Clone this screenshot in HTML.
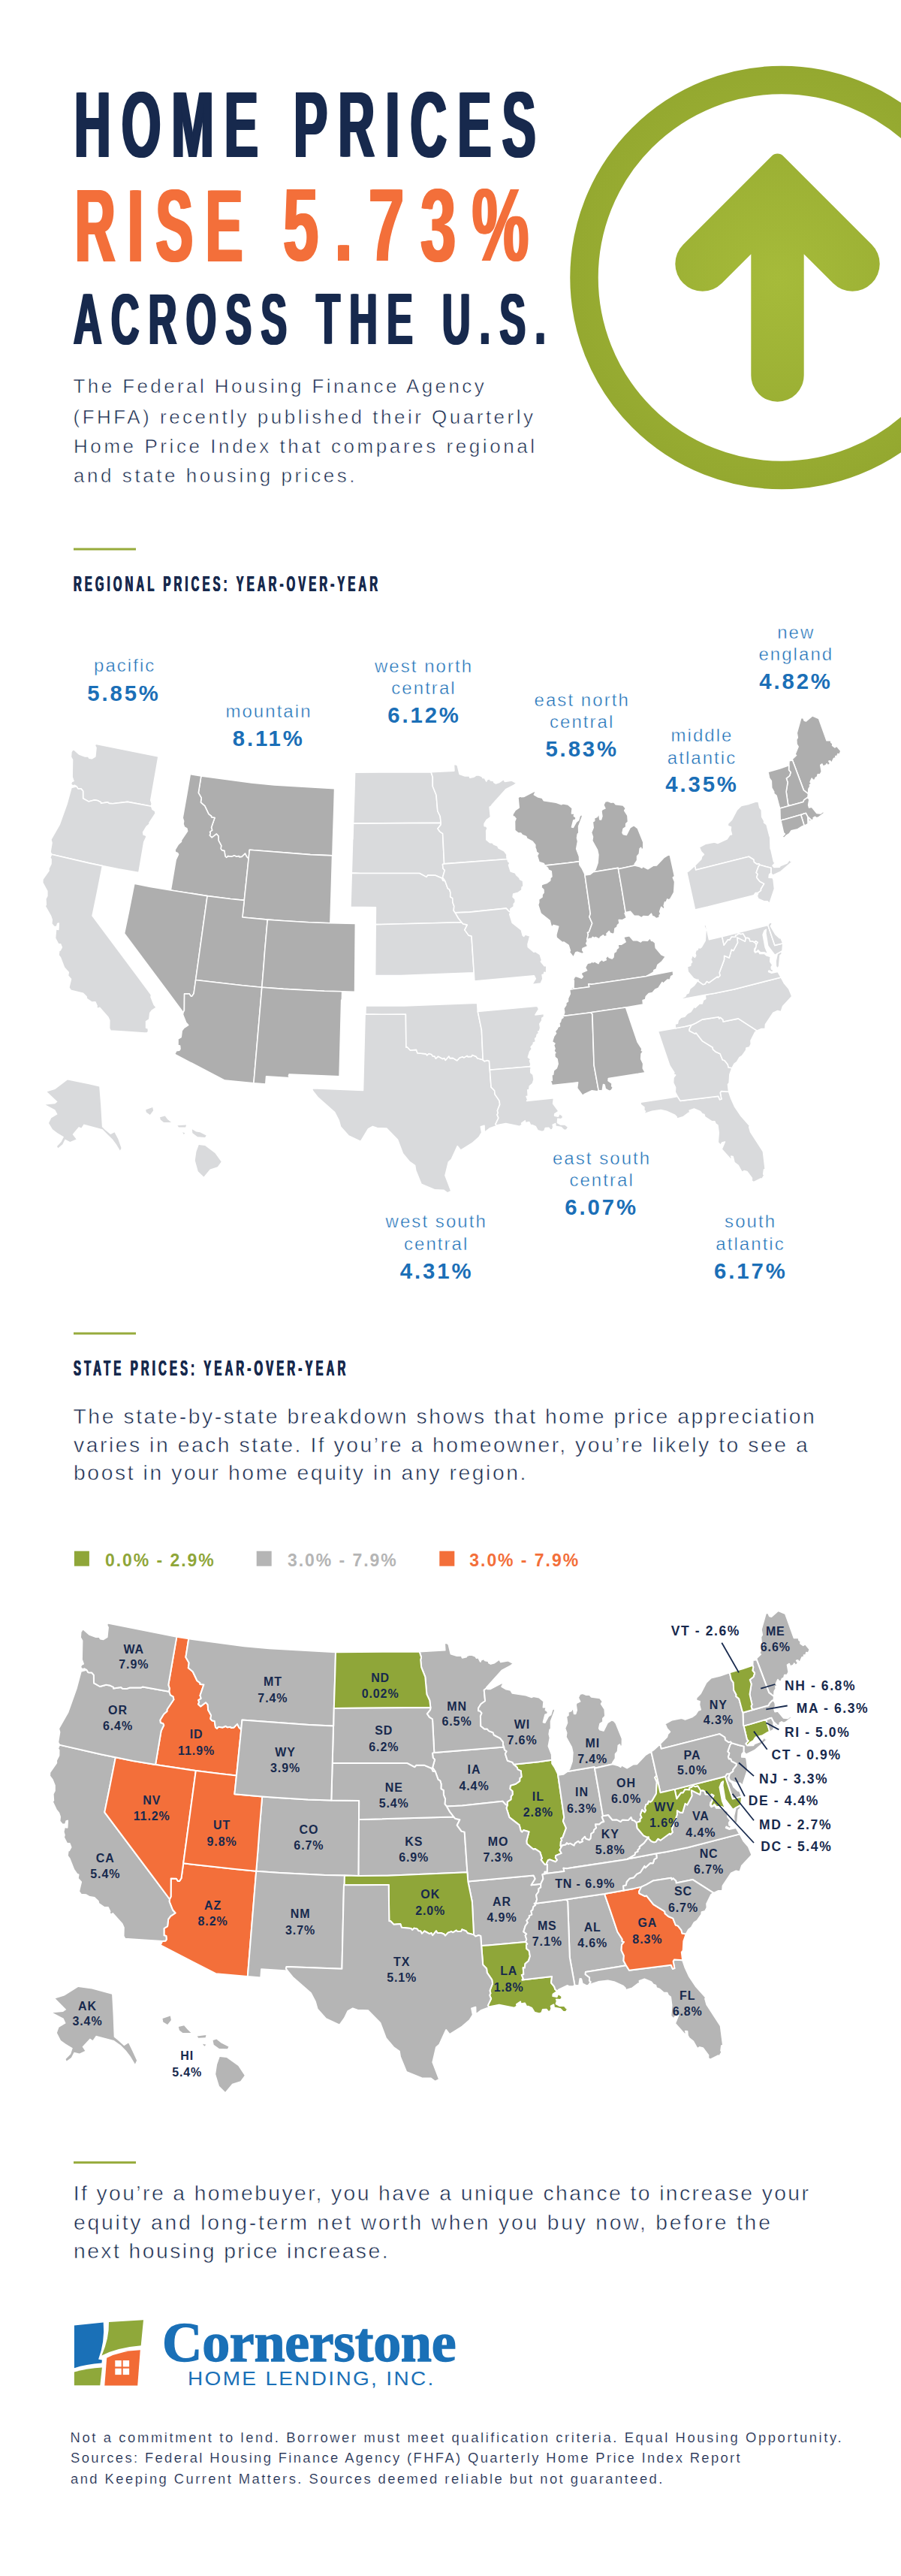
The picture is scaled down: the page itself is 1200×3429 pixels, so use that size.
<!DOCTYPE html><html lang="en"><head><meta charset="utf-8"><title>Home Prices Rise 5.73% Across the U.S.</title><style>
html,body{margin:0;padding:0;background:#fff}
body{width:1200px;height:3429px;position:relative;overflow:hidden;font-family:"Liberation Sans",sans-serif}
.hl{position:absolute;white-space:nowrap;font-weight:700;transform-origin:0 0;line-height:1;margin:0}
.sh{position:absolute;white-space:nowrap;font-weight:700;transform-origin:0 0;line-height:1;margin:0;color:#17294d}
.p{position:absolute;left:98px;margin:0;color:#17294d;white-space:nowrap;-webkit-text-stroke:0.55px #fff}
</style></head><body><svg width="1200" height="3429" viewBox="0 0 1200 3429" style="position:absolute;left:0;top:0" font-family='"Liberation Sans",sans-serif'><defs><radialGradient id="gg" cx="1036" cy="370" r="300" gradientUnits="userSpaceOnUse"><stop offset="0" stop-color="#a6bb3a"/><stop offset="1" stop-color="#93a72f"/></radialGradient></defs><circle cx="1041" cy="369.5" r="263" fill="none" stroke="url(#gg)" stroke-width="37.5"/><path d="M1027.8,207.7A10.9,10.9 0 0 1 1043.2,207.7L1161.04,325.56A36.4,36.4 0 0 1 1109.56,377.04L1070.7,338.18L1070.7,499.6A35.2,35.2 0 0 1 1000.3,499.6L1000.3,338.18L961.44,377.04A36.4,36.4 0 0 1 909.96,325.56Z" fill="url(#gg)"/><rect x="98" y="729.5" width="83" height="3" fill="#97ab3c"/><rect x="98" y="1773.5" width="83" height="3" fill="#97ab3c"/><rect x="98" y="2877.1" width="83" height="3" fill="#97ab3c"/><g stroke="#fff" stroke-width="1.6" stroke-linejoin="round"><g transform="translate(536.7,1283.0)" fill="#d9dadc"><path d="M-325.7,-276.0L-330.4,-249.0L-335.9,-217.8L-334.5,-213.6L-335.1,-209.7L-366.8,-215.6L-386.7,-213.2L-391.4,-213.6L-393.2,-215.1L-402.2,-213.7L-402.4,-215.3L-407.0,-217.5L-411.3,-218.1L-418.8,-216.1L-426.1,-220.3L-426.1,-230.0L-428.8,-233.1L-432.8,-233.1L-434.9,-236.3L-437.4,-237.8L-440.0,-237.0L-442.4,-239.6L-441.1,-242.4L-438.7,-243.5L-440.6,-248.8L-440.2,-271.5L-442.3,-275.4L-441.8,-282.1L-439.2,-286.0L-431.4,-279.0L-423.4,-276.1L-419.3,-276.2L-417.9,-273.9L-414.4,-273.2L-409.9,-275.9L-408.7,-287.6L-410.3,-290.6L-409.2,-292.8Z"/><path d="M-366.8,-215.6L-335.1,-209.7L-333.6,-205.6L-330.2,-203.5L-329.5,-200.2L-337.6,-188.1L-337.7,-186.0L-341.6,-182.6L-346.1,-175.2L-345.5,-172.0L-342.6,-171.1L-341.6,-169.1L-344.9,-162.2L-351.8,-121.5L-379.0,-126.1L-400.2,-130.4L-416.9,-133.9L-468.1,-145.8L-469.7,-148.9L-467.7,-161.1L-468.9,-165.5L-457.6,-185.1L-447.4,-213.6L-441.7,-234.5L-434.9,-236.3L-432.8,-233.1L-428.8,-233.1L-426.1,-230.0L-426.1,-220.3L-418.8,-216.1L-411.3,-218.1L-407.0,-217.5L-402.4,-215.3L-402.2,-213.7L-393.2,-215.1L-391.4,-213.6L-386.7,-213.2Z"/><path d="M-416.9,-133.9L-400.2,-130.4L-407.8,-92.0L-413.6,-64.0L-353.7,16.3L-335.2,41.3L-335.6,44.1L-331.5,54.4L-328.4,58.1L-334.1,61.8L-336.9,65.4L-337.9,74.0L-342.1,76.6L-342.1,85.1L-339.5,85.6L-339.1,89.9L-340.4,91.7L-344.2,92.1L-369.1,90.4L-389.4,89.1L-391.1,85.8L-390.9,75.4L-392.8,71.0L-404.0,58.4L-405.6,59.5L-408.3,58.1L-407.5,56.0L-409.8,50.9L-414.3,51.1L-421.2,46.4L-421.7,43.5L-426.1,39.2L-442.4,35.2L-444.9,31.6L-442.2,20.2L-446.2,15.9L-445.5,11.4L-451.1,5.0L-456.2,-8.2L-458.7,-11.5L-457.8,-18.8L-456.6,-17.9L-454.4,-21.9L-456.1,-26.3L-459.2,-26.5L-463.2,-34.0L-462.1,-46.3L-458.9,-45.6L-458.4,-54.0L-460.0,-53.5L-461.2,-49.6L-464.7,-49.5L-468.0,-53.4L-467.5,-58.8L-469.1,-63.5L-476.7,-77.0L-475.4,-78.5L-475.9,-86.4L-473.9,-90.3L-473.9,-96.8L-480.0,-108.2L-479.8,-112.4L-471.7,-124.0L-471.9,-126.7L-468.7,-133.0L-468.6,-139.3L-470.0,-141.2L-468.1,-145.8Z"/></g><g transform="translate(579.1,1306.5)" fill="#aeaeae"><path d="M-133.5,-256.8L-134.2,-231.5L-135.6,-188.8L-136.2,-167.6L-136.5,-167.6L-165.8,-168.9L-246.8,-175.2L-248.0,-163.5L-250.6,-166.1L-252.7,-170.3L-256.9,-166.1L-260.2,-165.6L-260.8,-166.9L-264.6,-166.3L-266.7,-167.7L-270.6,-166.2L-275.5,-166.9L-277.4,-165.0L-279.1,-166.5L-280.2,-173.9L-283.5,-174.6L-285.0,-176.7L-284.4,-180.9L-288.0,-187.6L-288.3,-193.8L-290.8,-196.4L-296.9,-191.7L-299.9,-194.5L-298.8,-196.8L-299.6,-199.2L-296.5,-201.3L-297.6,-204.9L-293.1,-218.0L-297.5,-218.5L-297.5,-220.0L-301.2,-222.9L-306.3,-233.7L-311.7,-238.3L-310.9,-244.3L-314.8,-251.2L-311.2,-273.6L-244.2,-264.5L-213.8,-261.6Z"/><path d="M-311.2,-273.6L-314.8,-251.2L-310.9,-244.3L-311.7,-238.3L-306.3,-233.7L-301.2,-222.9L-297.5,-220.0L-297.5,-218.5L-293.1,-218.0L-297.6,-204.9L-296.5,-201.3L-299.6,-199.2L-298.8,-196.8L-299.9,-194.5L-296.9,-191.7L-290.8,-196.4L-288.3,-193.8L-288.0,-187.6L-284.4,-180.9L-285.0,-176.7L-283.5,-174.6L-280.2,-173.9L-279.1,-166.5L-277.4,-165.0L-275.5,-166.9L-270.6,-166.2L-266.7,-167.7L-264.6,-166.3L-260.8,-166.9L-260.2,-165.6L-256.9,-166.1L-252.7,-170.3L-250.6,-166.1L-248.0,-163.5L-253.8,-108.1L-272.2,-110.0L-303.0,-113.9L-351.8,-121.5L-344.9,-162.2L-341.6,-169.1L-342.6,-171.1L-345.5,-172.0L-346.1,-175.2L-341.6,-182.6L-337.7,-186.0L-337.6,-188.1L-329.5,-200.2L-330.2,-203.5L-333.6,-205.6L-335.1,-209.7L-334.5,-213.6L-335.9,-217.8L-330.4,-249.0L-325.8,-276.0Z"/><path d="M-165.8,-168.9L-136.5,-167.6L-137.8,-122.8L-139.2,-77.7L-167.3,-78.7L-204.0,-81.0L-222.8,-82.4L-256.2,-85.5L-253.8,-108.1L-248.0,-163.5L-246.8,-175.2Z"/><path d="M-351.8,-121.5L-303.0,-113.9L-318.5,-2.0L-321.0,16.0L-323.4,19.6L-325.1,19.4L-326.9,16.4L-333.5,16.4L-333.7,38.4L-335.2,41.3L-353.7,16.3L-413.6,-64.0L-407.8,-92.0L-400.2,-130.4L-379.0,-126.1Z"/><path d="M-272.2,-110.0L-253.8,-108.1L-256.2,-85.5L-222.8,-82.4L-226.5,-40.2L-228.1,-18.6L-230.3,7.7L-256.0,5.3L-318.5,-2.0L-303.0,-113.9Z"/><path d="M-204.0,-81.0L-167.3,-78.7L-139.2,-77.7L-105.7,-77.0L-105.9,-54.3L-106.5,13.7L-123.4,13.3L-147.1,12.8L-201.7,9.9L-230.3,7.7L-228.1,-18.6L-226.5,-40.2L-222.8,-82.4Z"/><path d="M-230.3,7.7L-241.2,135.2L-279.7,131.6L-346.7,96.8L-344.2,92.1L-340.4,91.7L-339.1,89.9L-339.5,85.6L-342.1,85.1L-342.1,76.6L-337.9,74.0L-336.9,65.4L-334.1,61.8L-328.4,58.1L-331.5,54.4L-335.6,44.1L-335.2,41.3L-333.7,38.4L-333.5,16.4L-326.9,16.4L-325.1,19.4L-323.4,19.6L-321.0,16.0L-318.5,-2.0L-256.0,5.3Z"/><path d="M-201.7,9.9L-147.1,12.8L-123.4,13.3L-123.7,24.6L-124.4,24.6L-127.0,126.2L-194.0,123.5L-194.7,125.7L-192.7,128.4L-224.5,126.3L-225.3,136.5L-241.2,135.2L-230.3,7.7Z"/></g><g transform="translate(606.1,1284.9)" fill="#d9dadc"><path d="M-32.0,-257.2L-29.8,-250.3L-29.8,-238.2L-25.1,-226.6L-23.3,-205.4L-19.9,-198.4L-18.9,-189.5L-135.6,-188.8L-134.2,-231.5L-133.5,-256.8Z"/><path d="M-135.6,-188.8L-18.9,-189.5L-19.1,-186.9L-23.1,-181.9L-20.2,-177.7L-16.5,-175.3L-14.5,-135.0L-16.6,-134.4L-16.0,-128.7L-13.8,-126.5L-16.6,-117.0L-13.3,-112.2L-16.3,-112.7L-17.5,-115.9L-26.3,-119.7L-36.3,-119.8L-38.2,-117.5L-47.3,-122.4L-125.9,-122.4L-137.8,-122.8L-136.5,-167.6L-136.2,-167.6Z"/><path d="M-125.9,-122.4L-47.3,-122.4L-38.2,-117.5L-36.3,-119.8L-26.3,-119.7L-17.5,-115.9L-16.3,-112.7L-13.3,-112.2L-9.8,-102.3L-7.5,-100.9L-6.2,-97.0L-6.4,-91.2L-3.4,-89.3L-3.2,-83.7L-1.3,-78.7L-1.9,-72.8L0.2,-70.0L4.2,-62.9L8.8,-57.2L-103.4,-54.3L-105.9,-54.3L-105.7,-77.0L-139.2,-77.7L-137.8,-122.8Z"/><path d="M-103.4,-54.3L8.8,-57.2L10.6,-55.2L16.2,-53.8L12.8,-47.0L18.1,-39.8L21.9,-38.9L25.1,9.8L-71.8,13.6L-106.5,13.7L-105.9,-54.3Z"/><path d="M50.2,-211.7L49.0,-212.6L46.0,-210.4L47.3,-197.3L42.2,-193.6L39.0,-188.5L39.0,-185.3L40.9,-185.3L43.1,-182.6L41.6,-179.0L41.8,-167.0L46.4,-163.3L49.7,-163.2L51.6,-160.9L56.7,-158.9L57.8,-156.1L65.3,-152.1L68.9,-147.5L68.8,-143.9L69.9,-141.5L67.5,-141.2L-14.5,-135.0L-16.5,-175.3L-20.2,-177.7L-23.1,-181.9L-19.1,-186.9L-18.9,-189.5L-19.9,-198.4L-23.3,-205.4L-25.1,-226.6L-29.8,-238.2L-29.8,-250.3L-32.0,-257.2L-1.2,-258.8L-1.7,-267.3L1.2,-267.2L3.3,-265.7L6.0,-254.3L13.2,-252.0L19.0,-251.9L19.8,-249.6L24.7,-250.6L28.4,-253.1L31.7,-252.9L35.7,-251.4L37.0,-249.2L39.2,-249.6L41.7,-244.8L42.5,-247.0L46.2,-248.3L47.0,-246.3L51.6,-245.3L51.8,-243.3L54.2,-242.0L58.6,-243.3L64.7,-247.5L66.3,-244.4L75.4,-245.9L79.7,-243.6L83.5,-244.5L78.7,-239.9L67.6,-234.1L48.9,-213.4Z"/><path d="M67.5,-141.2L69.9,-141.5L70.5,-138.2L73.1,-136.2L71.4,-133.3L74.1,-124.9L80.2,-122.9L81.6,-120.2L85.7,-116.6L86.4,-114.3L90.3,-112.5L91.0,-105.4L89.0,-103.7L88.8,-100.1L84.0,-96.7L77.6,-94.9L77.0,-90.9L80.0,-88.0L80.2,-84.0L78.2,-81.6L78.1,-78.1L73.7,-75.1L73.8,-71.0L71.9,-71.6L68.0,-75.8L19.3,-70.8L0.2,-70.0L-1.9,-72.8L-1.3,-78.7L-3.2,-83.7L-3.4,-89.3L-6.4,-91.2L-6.2,-97.0L-7.5,-100.9L-9.8,-102.3L-13.3,-112.2L-16.6,-117.0L-13.8,-126.5L-16.0,-128.7L-16.6,-134.4L-14.5,-135.0Z"/><path d="M71.9,-71.6L73.8,-71.0L72.7,-67.7L76.2,-56.5L88.2,-47.0L90.1,-39.8L91.6,-38.5L93.3,-40.9L99.8,-39.0L96.9,-27.9L97.2,-24.3L105.1,-17.6L106.9,-18.3L113.1,-14.2L115.5,-6.7L114.3,-5.0L119.0,0.9L121.8,0.8L121.5,10.1L118.8,9.4L118.2,12.4L117.0,12.5L116.0,12.6L116.8,18.2L114.0,24.2L102.4,25.6L107.2,18.0L105.2,13.9L28.4,20.9L25.8,21.1L25.1,9.8L21.9,-38.9L18.1,-39.8L12.8,-47.0L16.2,-53.8L10.6,-55.2L8.8,-57.2L4.2,-62.9L0.2,-70.0L19.3,-70.8L68.0,-75.8Z"/></g><g transform="translate(643.9,1272.3)" fill="#aeaeae"><path d="M127.6,-132.2L127.9,-125.7L111.9,-123.5L81.6,-120.2L80.2,-122.9L74.1,-124.9L71.4,-133.3L73.1,-136.2L70.5,-138.2L69.9,-141.5L68.8,-143.9L68.9,-147.5L65.3,-152.1L57.8,-156.1L56.7,-158.9L51.6,-160.9L49.7,-163.2L46.4,-163.3L41.8,-167.0L41.6,-179.0L43.1,-182.6L40.9,-185.3L39.0,-185.3L39.0,-188.5L42.2,-193.6L47.3,-197.3L46.0,-210.4L49.0,-212.6L50.2,-211.7L53.7,-211.8L67.7,-219.1L69.2,-217.7L67.4,-214.5L72.9,-211.3L78.1,-210.2L80.3,-206.6L96.7,-204.0L103.7,-201.6L105.6,-202.6L112.5,-201.3L118.3,-196.5L117.6,-189.4L121.4,-189.4L120.4,-186.1L123.1,-184.1L122.9,-181.3L119.9,-180.4L117.6,-171.3L119.5,-170.9L123.6,-178.3L126.6,-180.5L128.4,-186.5L131.4,-188.2L131.6,-185.2L126.7,-172.3L126.9,-163.4L125.4,-161.9L124.6,-156.7L125.7,-152.5L123.8,-142.3Z"/><path d="M201.5,-120.3L179.6,-115.5L179.3,-116.9L146.3,-111.6L149.2,-115.0L152.2,-123.8L153.0,-134.5L151.6,-141.0L144.8,-153.2L145.6,-158.3L143.6,-164.0L146.3,-170.5L145.4,-178.2L147.8,-179.7L147.6,-183.4L151.4,-185.0L153.9,-189.5L154.9,-181.5L156.6,-181.4L158.0,-185.7L157.0,-192.5L158.0,-194.5L162.0,-196.3L159.9,-200.8L162.0,-205.2L165.4,-206.1L169.7,-204.2L173.6,-204.5L176.0,-201.7L186.0,-200.4L189.5,-196.2L187.8,-193.3L192.0,-186.8L192.6,-178.4L189.8,-175.7L189.8,-171.4L186.3,-169.2L185.1,-163.7L186.2,-161.9L190.4,-160.8L195.2,-170.5L200.3,-173.7L205.5,-169.7L213.0,-151.1L212.9,-142.8L210.5,-141.0L209.8,-143.9L208.3,-142.7L207.5,-135.7L204.7,-132.5L204.7,-127.2L201.4,-122.2Z"/><path d="M81.6,-120.2L111.9,-123.5L127.9,-125.7L128.0,-121.3L131.2,-116.6L134.9,-108.8L142.4,-56.0L141.1,-51.7L144.8,-43.3L140.5,-31.6L138.6,-30.9L139.5,-28.2L138.0,-21.4L138.7,-20.1L136.9,-16.5L139.1,-12.8L132.2,-9.8L131.8,-7.4L133.8,-4.6L131.9,-2.5L125.0,-5.1L123.0,-4.6L120.8,-0.3L121.8,0.8L119.0,0.9L114.3,-5.0L115.5,-6.7L113.1,-14.2L106.9,-18.3L105.1,-17.6L97.2,-24.3L96.9,-27.9L99.8,-39.0L93.3,-40.9L91.6,-38.5L90.1,-39.8L88.2,-47.0L76.2,-56.5L72.7,-67.7L73.8,-71.0L73.7,-75.1L78.1,-78.1L78.2,-81.6L80.2,-84.0L80.0,-88.0L77.0,-90.9L77.6,-94.9L84.0,-96.7L88.8,-100.1L89.0,-103.7L91.0,-105.4L90.3,-112.5L86.4,-114.3L85.7,-116.6Z"/><path d="M179.3,-116.9L179.6,-115.5L184.2,-88.9L189.3,-57.7L188.2,-56.5L190.6,-50.7L184.9,-47.4L180.3,-47.7L181.2,-43.3L178.6,-41.0L177.9,-38.0L175.1,-36.4L174.4,-30.5L172.7,-28.7L168.5,-30.2L167.4,-32.7L164.0,-29.3L164.7,-26.9L161.0,-25.4L159.5,-27.4L155.5,-24.6L154.4,-22.0L149.5,-24.7L147.3,-23.6L145.6,-25.0L144.4,-23.2L140.1,-22.4L138.7,-20.1L138.0,-21.4L139.5,-28.2L138.6,-30.9L140.5,-31.6L144.8,-43.3L141.1,-51.7L142.4,-56.0L134.9,-108.8L136.8,-107.6L141.8,-108.3L146.3,-111.6Z"/><path d="M248.1,-135.5L254.6,-105.9L252.4,-104.1L254.7,-98.5L253.8,-84.3L248.9,-75.7L246.9,-74.3L244.8,-75.4L243.5,-71.8L241.6,-71.6L240.3,-66.9L241.3,-64.4L240.0,-62.0L236.8,-64.9L234.7,-58.9L236.2,-55.7L234.4,-54.0L234.3,-51.0L230.0,-49.6L227.0,-52.2L225.0,-52.4L223.5,-56.1L219.8,-52.3L213.0,-52.8L210.6,-50.7L206.2,-53.1L200.7,-53.0L195.8,-58.9L189.3,-57.7L184.2,-88.9L179.6,-115.5L201.5,-120.3L208.4,-118.5L210.9,-117.1L212.2,-119.1L218.9,-115.6L226.0,-120.0L230.5,-120.4L240.7,-131.0Z"/></g><g transform="translate(610.5,1325.3)" fill="#d9dadc"><path d="M-102.5,24.9L-70.1,24.8L-69.6,68.7L-68.2,68.4L-64.1,72.7L-56.0,72.1L-54.6,76.4L-43.2,77.6L-41.7,79.4L-39.4,77.2L-35.9,78.1L-34.3,80.5L-31.6,80.8L-30.1,83.9L-27.0,80.8L-20.9,84.2L-18.8,83.2L-17.2,86.0L-12.7,80.7L-11.3,83.3L-7.3,83.1L-1.8,86.4L1.6,82.8L5.5,81.4L7.4,82.6L11.6,80.1L12.7,81.3L17.5,81.1L18.5,79.1L23.4,81.0L25.4,83.5L32.7,85.5L34.7,87.4L38.3,86.1L41.0,86.9L41.9,98.8L43.6,121.8L48.1,126.4L48.6,131.3L54.5,140.0L55.2,144.8L51.9,153.2L52.8,156.2L51.6,158.6L53.4,162.8L49.5,171.1L51.3,173.2L41.6,176.8L34.7,182.0L34.5,173.0L29.8,174.5L31.2,182.2L27.3,188.5L18.3,196.5L3.0,205.8L-1.2,200.4L-9.3,218.0L-13.1,221.5L-17.5,239.5L-9.6,260.1L-14.5,262.7L-19.8,258.9L-31.0,258.6L-49.4,250.9L-56.8,232.8L-57.9,226.1L-65.0,221.1L-74.0,210.2L-81.0,191.7L-95.6,176.7L-108.3,176.2L-114.1,174.1L-120.0,177.3L-130.1,194.2L-146.5,186.3L-156.8,174.8L-159.4,165.7L-164.8,155.4L-186.8,135.9L-192.7,128.4L-194.7,125.7L-194.0,123.5L-127.0,126.2L-124.4,24.6L-123.7,24.6Z"/><path d="M-71.8,13.6L25.1,9.8L25.8,21.1L30.9,45.8L32.7,85.5L25.4,83.5L23.4,81.0L18.5,79.1L17.5,81.1L12.7,81.3L11.6,80.1L7.4,82.6L5.5,81.4L1.6,82.8L-1.8,86.4L-7.3,83.1L-11.3,83.3L-12.7,80.7L-17.2,86.0L-18.8,83.2L-20.9,84.2L-27.0,80.8L-30.1,83.9L-31.6,80.8L-34.3,80.5L-35.9,78.1L-39.4,77.2L-41.7,79.4L-43.2,77.6L-54.6,76.4L-56.0,72.1L-64.1,72.7L-68.2,68.4L-69.6,68.7L-70.1,24.8L-102.5,24.9L-123.7,24.6L-123.4,13.3L-106.5,13.7Z"/><path d="M28.4,20.9L105.2,13.9L107.2,18.0L102.4,25.6L114.0,24.2L113.9,28.5L111.4,30.0L111.2,33.5L108.3,37.6L109.2,43.0L107.9,47.1L106.2,48.0L107.5,49.8L104.8,51.8L103.9,55.8L102.2,57.0L102.9,61.4L99.8,63.0L100.0,64.5L96.6,68.5L98.0,70.9L95.1,74.8L92.9,82.0L96.4,84.6L95.0,86.6L96.5,91.2L95.4,94.4L49.9,98.2L41.9,98.8L41.0,86.9L38.3,86.1L34.7,87.4L32.7,85.5L30.9,45.8L25.8,21.1Z"/><path d="M49.9,98.2L95.4,94.4L97.4,96.8L96.2,97.9L96.4,102.5L99.5,105.0L100.6,111.6L98.9,117.0L94.8,120.6L94.2,125.8L92.3,125.5L92.8,133.7L90.5,134.2L92.3,138.5L91.1,140.2L127.1,136.3L126.1,143.8L133.6,153.9L128.2,157.7L128.1,159.9L132.9,160.8L134.5,157.1L138.9,160.1L138.9,162.9L136.8,164.4L132.3,163.9L132.0,169.2L136.0,171.6L142.1,171.7L146.4,175.0L143.8,179.1L140.3,178.8L136.9,175.3L129.5,174.1L129.1,170.3L125.7,171.9L126.3,175.1L125.1,178.2L122.6,179.0L120.3,175.9L115.8,176.3L114.6,179.9L111.7,181.2L105.7,179.5L102.7,174.2L98.0,172.2L96.4,172.8L94.2,168.3L89.2,169.4L88.8,166.6L84.1,169.8L84.9,171.8L81.3,174.1L63.1,170.3L52.7,172.2L51.3,173.2L49.5,171.1L53.4,162.8L51.6,158.6L52.8,156.2L51.9,153.2L55.2,144.8L54.5,140.0L48.6,131.3L48.1,126.4L43.6,121.8L41.9,98.8Z"/></g><g transform="translate(642.5,1304.6)" fill="#aeaeae"><path d="M227.0,-52.2L230.0,-49.6L230.8,-42.8L238.4,-33.9L242.3,-32.0L244.6,-32.1L239.2,-24.8L233.5,-20.3L231.7,-14.6L228.5,-13.1L227.8,-10.5L219.0,-5.5L218.8,-5.1L145.4,5.7L141.4,5.2L142.3,9.2L120.3,11.9L118.2,12.4L118.8,9.4L121.5,10.1L121.8,0.8L120.8,-0.3L123.0,-4.6L125.0,-5.1L131.9,-2.5L133.8,-4.6L131.8,-7.4L132.2,-9.8L139.1,-12.8L136.9,-16.5L138.7,-20.1L140.1,-22.4L144.4,-23.2L145.6,-25.0L147.3,-23.6L149.5,-24.7L154.4,-22.0L155.5,-24.6L159.5,-27.4L161.0,-25.4L164.7,-26.9L164.0,-29.3L167.4,-32.7L168.5,-30.2L172.7,-28.7L174.4,-30.5L175.1,-36.4L177.9,-38.0L178.6,-41.0L181.2,-43.3L180.3,-47.7L184.9,-47.4L190.6,-50.7L188.2,-56.5L189.3,-57.7L195.8,-58.9L200.7,-53.0L206.2,-53.1L210.6,-50.7L213.0,-52.8L219.8,-52.3L223.5,-56.1L225.0,-52.4Z"/><path d="M218.8,-5.1L219.0,-5.5L253.9,-12.1L254.3,-6.7L251.2,-5.0L249.9,-0.4L246.5,-0.6L240.4,5.0L239.5,2.9L234.5,10.6L230.1,12.7L226.4,16.9L221.6,17.9L217.8,22.0L217.1,25.9L213.6,27.0L214.1,32.4L191.0,36.4L159.4,40.9L144.3,43.2L139.4,43.9L106.2,48.0L107.9,47.1L109.2,43.0L108.3,37.6L111.2,33.5L111.4,30.0L113.9,28.5L114.0,24.2L116.8,18.2L116.0,12.6L117.0,12.5L118.2,12.4L120.3,11.9L142.3,9.2L141.4,5.2L145.4,5.7Z"/><path d="M139.4,43.9L144.3,43.2L146.4,45.3L148.6,113.2L154.7,147.0L152.7,148.3L145.9,147.2L135.4,152.1L133.6,153.9L126.1,143.8L127.1,136.3L91.1,140.2L92.3,138.5L90.5,134.2L92.8,133.7L92.3,125.5L94.2,125.8L94.8,120.6L98.9,117.0L100.6,111.6L99.5,105.0L96.4,102.5L96.2,97.9L97.4,96.8L95.4,94.4L96.5,91.2L95.0,86.6L96.4,84.6L92.9,82.0L95.1,74.8L98.0,70.9L96.6,68.5L100.0,64.5L99.8,63.0L102.9,61.4L102.2,57.0L103.9,55.8L104.8,51.8L107.5,49.8L106.2,48.0Z"/><path d="M159.4,40.9L191.0,36.4L197.3,55.1L206.6,82.5L212.4,91.5L211.9,93.8L214.3,94.8L211.6,98.1L211.2,105.0L214.2,111.3L213.8,117.4L216.9,123.1L207.6,124.8L167.8,130.9L167.6,133.9L172.5,137.6L172.3,141.3L174.0,143.0L171.7,146.7L169.2,147.8L163.8,144.8L162.6,139.4L161.0,139.0L159.7,147.5L154.7,147.0L148.6,113.2L146.4,45.3L144.3,43.2Z"/></g><g transform="translate(685.4,1336.3)" fill="#d9dadc"><path d="M207.6,124.8L216.9,123.1L220.6,129.1L271.3,122.9L273.2,127.4L275.5,126.8L273.8,118.3L275.2,116.2L285.2,116.9L288.4,126.2L293.0,136.4L301.6,149.2L313.3,162.4L312.3,163.7L314.2,170.5L331.0,196.5L333.8,219.9L332.1,220.7L331.3,226.7L332.4,228.3L329.4,233.2L327.7,232.6L318.2,237.4L315.8,235.5L316.0,232.0L309.5,223.3L305.6,222.3L302.8,224.2L297.8,215.1L292.6,211.0L290.7,203.2L288.3,202.8L289.4,205.5L287.5,206.6L275.8,193.5L280.0,183.6L276.2,184.8L274.2,188.1L270.8,184.3L271.8,171.6L270.5,161.5L267.7,159.5L266.3,156.4L262.5,156.4L253.3,150.4L252.5,147.2L249.9,146.5L247.2,143.2L239.0,139.7L232.8,141.9L233.8,145.3L231.6,145.0L224.3,150.5L216.0,153.0L215.8,150.5L213.3,147.9L202.3,143.0L194.7,141.3L183.0,142.9L171.7,146.7L174.0,143.0L172.3,141.3L172.5,137.6L167.6,133.9L167.8,130.9Z"/><path d="M235.7,28.1L232.8,33.6L232.9,36.0L239.8,39.6L241.6,38.8L250.2,49.6L263.8,58.0L264.1,60.6L268.1,64.0L273.7,66.4L276.9,74.5L279.7,75.5L283.9,80.8L284.8,84.5L289.5,85.5L286.5,94.0L285.8,105.3L284.1,107.3L285.2,116.9L275.2,116.2L273.8,118.3L275.5,126.8L273.2,127.4L271.3,122.9L220.6,129.1L216.9,123.1L213.8,117.4L214.2,111.3L211.2,105.0L211.6,98.1L214.3,94.8L211.9,93.8L212.4,91.5L206.6,82.5L197.3,55.1L191.0,36.4L214.1,32.4L226.7,30.2Z"/><path d="M241.6,25.5L249.7,20.8L271.8,17.4L272.4,19.7L274.0,18.0L277.5,21.1L277.8,23.7L297.9,19.6L323.0,35.8L320.2,37.7L314.6,48.8L314.9,53.5L312.7,57.8L308.6,58.8L308.3,61.6L303.0,69.2L299.5,71.3L296.0,77.3L292.6,79.9L289.5,85.5L284.8,84.5L283.9,80.8L279.7,75.5L276.9,74.5L273.7,66.4L268.1,64.0L264.1,60.6L263.8,58.0L250.2,49.6L241.6,38.8L239.8,39.6L232.9,36.0L232.8,33.6L235.7,28.1Z"/><path d="M266.3,-14.1L292.0,-19.3L354.9,-35.3L359.2,-27.2L365.3,-20.1L369.4,-10.0L357.2,3.2L354.8,10.4L350.3,9.2L344.4,11.9L334.1,27.3L333.7,33.2L328.9,33.3L323.0,35.8L297.9,19.6L277.8,23.7L277.5,21.1L274.0,18.0L272.4,19.7L271.8,17.4L249.7,20.8L241.6,25.5L235.7,28.1L226.7,30.2L214.1,32.4L213.6,27.0L217.1,25.9L217.8,22.0L221.6,17.9L226.4,16.9L230.1,12.7L234.5,10.6L239.5,2.9L240.4,5.0L246.5,-0.6L249.9,-0.4L251.2,-5.0L254.3,-6.7L253.9,-12.1Z"/><path d="M356.6,-70.5L355.5,-66.2L353.5,-64.2L352.2,-49.8L349.7,-47.3L348.0,-50.0L347.7,-57.1L349.9,-66.9ZM306.9,-83.2L307.7,-87.8L310.3,-88.1L312.6,-86.8L313.5,-83.5L317.2,-83.3L319.9,-81.8L322.0,-79.1L321.4,-75.2L319.7,-73.7L319.2,-70.3L320.5,-68.2L324.8,-70.1L326.6,-66.8L332.8,-66.9L335.2,-64.6L340.8,-62.8L340.3,-56.2L343.5,-51.9L341.8,-49.0L342.2,-46.2L344.8,-45.1L343.2,-41.8L338.7,-44.3L338.2,-42.9L341.9,-41.2L350.5,-42.9L354.9,-35.3L292.0,-19.3L266.3,-14.1L253.9,-12.1L219.0,-5.5L227.8,-10.5L228.5,-13.1L231.7,-14.6L233.5,-20.3L239.2,-24.8L244.6,-32.1L244.7,-30.2L251.1,-25.7L253.3,-26.3L256.0,-29.9L258.8,-28.1L269.9,-36.2L270.9,-35.0L273.5,-37.6L272.7,-41.6L279.1,-58.7L279.2,-64.0L285.8,-61.4L288.9,-72.3L291.4,-70.8L297.1,-81.6L296.4,-88.4Z"/><path d="M254.6,-105.9L259.0,-85.7L276.3,-89.6L278.8,-78.2L284.0,-85.5L286.4,-85.3L288.9,-89.3L294.2,-89.0L294.2,-91.5L297.0,-92.1L298.1,-94.1L301.4,-92.8L304.3,-93.5L307.7,-87.8L306.9,-83.2L296.4,-88.4L297.1,-81.6L291.4,-70.8L288.9,-72.3L285.8,-61.4L279.2,-64.0L279.1,-58.7L272.7,-41.6L273.5,-37.6L270.9,-35.0L269.9,-36.2L258.8,-28.1L256.0,-29.9L253.3,-26.3L251.1,-25.7L244.7,-30.2L244.6,-32.1L242.3,-32.0L238.4,-33.9L230.8,-42.8L230.0,-49.6L234.3,-51.0L234.4,-54.0L236.2,-55.7L234.7,-58.9L236.8,-64.9L240.0,-62.0L241.3,-64.4L240.3,-66.9L241.6,-71.6L243.5,-71.8L244.8,-75.4L246.9,-74.3L248.9,-75.7L253.8,-84.3L254.7,-98.5L252.4,-104.1Z"/><path d="M276.3,-89.6L337.4,-104.9L346.5,-77.9L357.4,-80.6L356.6,-70.5L349.9,-66.9L346.6,-64.9L337.2,-77.4L334.4,-94.2L334.9,-99.0L332.8,-97.5L330.7,-92.1L333.8,-75.3L337.6,-66.0L332.8,-68.4L326.9,-68.7L324.3,-71.6L321.7,-68.9L319.8,-71.2L321.4,-75.2L322.0,-79.1L323.6,-81.9L321.0,-83.5L319.9,-81.8L317.2,-83.3L313.5,-83.5L312.6,-86.8L310.3,-88.1L307.7,-87.8L304.3,-93.5L301.4,-92.8L298.1,-94.1L297.0,-92.1L294.2,-91.5L294.2,-89.0L288.9,-89.3L286.4,-85.3L284.0,-85.5L278.8,-78.2Z"/><path d="M343.1,-108.4L342.3,-105.4L341.0,-103.5L347.7,-92.3L352.8,-87.7L354.5,-87.9L357.4,-80.6L346.5,-77.9L337.4,-104.9L339.6,-108.1Z"/><path d="M321.0,-83.5L323.6,-81.9L322.0,-79.1L319.9,-81.8Z"/></g><g transform="translate(666.6,1296.7)" fill="#d9dadc"><path d="M343.3,-230.7L345.1,-222.0L347.7,-218.5L348.1,-209.4L351.2,-203.9L350.9,-201.9L354.4,-199.1L358.4,-184.0L359.1,-182.2L359.6,-166.8L360.2,-166.1L364.0,-149.5L365.7,-148.0L362.4,-144.5L364.3,-142.3L371.7,-142.6L372.7,-144.3L381.4,-147.7L385.2,-152.7L386.3,-150.3L389.2,-150.1L373.3,-136.5L362.6,-131.4L360.2,-134.5L360.3,-141.4L354.0,-142.9L345.2,-145.5L344.1,-146.9L341.6,-146.3L337.7,-149.2L337.1,-152.5L330.7,-156.5L260.1,-138.7L258.8,-144.6L267.2,-153.1L268.0,-156.5L270.7,-159.3L267.1,-163.1L264.7,-168.9L273.4,-173.6L285.0,-175.7L289.2,-174.2L301.7,-180.0L305.1,-185.1L307.9,-186.0L306.3,-191.9L306.9,-195.8L302.8,-197.2L302.8,-200.2L308.0,-205.5L314.8,-218.6L320.7,-224.2L331.2,-226.6Z"/><path d="M344.1,-146.9L345.2,-145.5L343.6,-143.4L340.6,-135.1L342.5,-133.2L341.1,-128.7L345.2,-123.4L351.1,-120.3L346.8,-113.2L347.0,-111.4L343.1,-108.4L339.6,-108.1L337.4,-104.9L276.3,-89.6L259.0,-85.7L254.6,-105.9L248.1,-135.5L250.8,-137.3L258.8,-144.6L260.1,-138.7L330.7,-156.5L337.1,-152.5L337.7,-149.2L341.6,-146.3Z"/><path d="M354.0,-142.9L360.3,-141.4L360.2,-134.5L357.9,-132.3L357.5,-128.6L362.4,-128.2L363.5,-125.8L364.9,-113.6L358.2,-93.6L355.7,-96.8L350.4,-97.2L343.2,-100.3L341.7,-103.9L342.3,-105.4L343.1,-108.4L347.0,-111.4L346.8,-113.2L351.1,-120.3L345.2,-123.4L341.1,-128.7L342.5,-133.2L340.6,-135.1L343.6,-143.4L345.2,-145.5Z"/></g><g transform="translate(679.6,1258.1)" fill="#aeaeae"><path d="M396.9,-201.5L390.8,-206.2L375.4,-247.5L380.9,-252.6L379.3,-253.8L383.5,-264.1L381.5,-267.5L381.1,-273.6L382.7,-276.2L381.6,-282.4L387.2,-302.4L390.1,-302.7L391.6,-298.8L394.0,-298.1L402.3,-305.3L410.9,-301.5L421.4,-272.3L427.0,-272.6L427.2,-269.9L429.3,-268.1L429.0,-265.7L432.3,-263.2L434.8,-264.9L440.3,-258.4L438.4,-253.9L436.2,-254.5L435.5,-251.7L433.2,-251.5L433.7,-249.4L430.8,-248.6L428.0,-242.5L425.8,-245.3L424.2,-244.9L426.1,-241.8L423.2,-239.0L421.5,-241.3L420.3,-239.4L416.4,-238.0L415.3,-241.1L413.2,-239.6L414.7,-231.0L412.8,-227.4L409.6,-227.4L408.9,-224.1L406.7,-223.0L405.5,-220.1L403.0,-219.8L401.6,-221.9L399.4,-217.0L401.1,-215.0L398.8,-213.3L399.3,-211.3L397.3,-207.9Z"/><path d="M375.4,-247.5L390.8,-206.2L396.9,-201.5L396.4,-196.9L391.3,-193.3L390.2,-190.7L371.9,-185.7L370.0,-186.9L367.5,-204.2L369.5,-216.7L367.7,-222.0L372.2,-225.6L373.5,-230.0L371.0,-233.1L371.1,-239.3L371.4,-245.5L375.1,-246.0Z"/><path d="M371.1,-239.3L371.0,-233.1L373.5,-230.0L372.2,-225.6L367.7,-222.0L369.5,-216.7L367.5,-204.2L370.0,-186.9L371.9,-185.7L359.1,-182.2L358.4,-184.0L354.4,-199.1L350.9,-201.9L351.2,-203.9L348.1,-209.4L347.7,-218.5L345.1,-222.0L343.3,-230.7L359.0,-235.2Z"/><path d="M396.4,-196.9L398.2,-193.4L397.0,-186.5L398.0,-183.1L401.6,-183.8L408.3,-175.7L413.4,-175.1L417.8,-178.8L417.7,-175.5L411.0,-170.4L408.3,-169.3L406.0,-170.8L403.6,-169.4L404.0,-167.8L401.4,-165.9L396.1,-170.9L393.6,-175.7L391.3,-175.0L387.1,-173.4L387.0,-173.7L367.1,-167.9L360.2,-166.1L359.6,-166.8L359.1,-182.2L371.9,-185.7L390.2,-190.7L391.3,-193.3Z"/><path d="M391.3,-175.0L393.6,-175.7L396.1,-170.9L401.4,-165.9L398.4,-164.4L396.2,-169.7L396.5,-161.3L390.8,-158.3L391.1,-160.7L387.1,-173.4Z"/><path d="M367.1,-167.9L387.0,-173.7L387.1,-173.4L391.1,-160.7L390.8,-158.3L389.3,-158.3L382.9,-154.4L374.4,-152.3L371.7,-148.3L368.1,-146.2L364.3,-142.3L362.4,-144.5L365.7,-148.0L364.0,-149.5L360.2,-166.1Z"/></g><path d="M89.9,1437.6L118.2,1443.3L132.2,1446.6L134.2,1471.6L135.9,1499.9L139.9,1503.9L147.2,1509.9L152.5,1507.2L157.2,1515.9L161.5,1528.2L159.9,1531.5L154.9,1523.2L149.9,1516.5L143.2,1509.9L136.6,1503.2L111.6,1496.6L108.3,1501.6L104.9,1499.9L96.6,1509.9L101.6,1516.5L93.3,1519.9L86.6,1516.5L83.3,1523.2L77.3,1528.2L76.0,1525.9L81.6,1519.9L85.0,1513.2L76.6,1508.2L70.0,1503.2L65.0,1494.9L68.3,1488.2L76.6,1483.2L73.3,1477.2L60.6,1470.6L73.3,1469.3L76.6,1466.6L62.6,1453.3L73.3,1449.9Z" fill="#d9dadc" stroke="none"/><path d="M194.2,1477.2L203.2,1473.9L204.2,1478.2L199.8,1483.9L194.8,1480.6ZM213.1,1487.2L219.8,1485.6L223.1,1489.9L228.1,1493.9L218.1,1493.9L213.8,1490.6ZM236.4,1498.2L248.1,1497.6L247.1,1500.6L238.1,1500.6ZM243.1,1507.2L246.4,1508.2L244.8,1509.9ZM255.8,1503.2L261.4,1506.5L266.4,1507.2L274.7,1511.5L273.1,1513.9L263.1,1513.2L256.4,1508.2ZM264.8,1523.9L273.1,1524.9L286.4,1534.9L294.7,1546.5L289.7,1553.2L279.7,1556.5L271.4,1566.5L263.8,1559.2L259.8,1544.8L261.4,1533.2Z" fill="#d9dadc" stroke="none"/></g><text x="166.2" y="894.3" font-size="24" font-weight="400" fill="#1b6fb7" letter-spacing="2.05" text-anchor="middle" stroke="#fff" stroke-width="0.45">pacific</text><text x="165.0" y="932.6" font-size="29.3" font-weight="700" fill="#1b6fb7" letter-spacing="2.9" text-anchor="middle" >5.85%</text><text x="358.0" y="954.6" font-size="24" font-weight="400" fill="#1b6fb7" letter-spacing="2.05" text-anchor="middle" stroke="#fff" stroke-width="0.45">mountain</text><text x="357.8" y="993.2" font-size="29.3" font-weight="700" fill="#1b6fb7" letter-spacing="2.9" text-anchor="middle" >8.11%</text><text x="564.5" y="894.6" font-size="24" font-weight="400" fill="#1b6fb7" letter-spacing="2.05" text-anchor="middle" stroke="#fff" stroke-width="0.45">west north</text><text x="564.5" y="924.4" font-size="24" font-weight="400" fill="#1b6fb7" letter-spacing="2.05" text-anchor="middle" stroke="#fff" stroke-width="0.45">central</text><text x="565.0" y="962.1" font-size="29.3" font-weight="700" fill="#1b6fb7" letter-spacing="2.9" text-anchor="middle" >6.12%</text><text x="775.2" y="940.2" font-size="24" font-weight="400" fill="#1b6fb7" letter-spacing="2.05" text-anchor="middle" stroke="#fff" stroke-width="0.45">east north</text><text x="775.2" y="969.3" font-size="24" font-weight="400" fill="#1b6fb7" letter-spacing="2.05" text-anchor="middle" stroke="#fff" stroke-width="0.45">central</text><text x="775.2" y="1006.5" font-size="29.3" font-weight="700" fill="#1b6fb7" letter-spacing="2.9" text-anchor="middle" >5.83%</text><text x="935.0" y="987.1" font-size="24" font-weight="400" fill="#1b6fb7" letter-spacing="2.05" text-anchor="middle" stroke="#fff" stroke-width="0.45">middle</text><text x="935.0" y="1016.8" font-size="24" font-weight="400" fill="#1b6fb7" letter-spacing="2.05" text-anchor="middle" stroke="#fff" stroke-width="0.45">atlantic</text><text x="935.0" y="1054.0" font-size="29.3" font-weight="700" fill="#1b6fb7" letter-spacing="2.9" text-anchor="middle" >4.35%</text><text x="1060.3" y="849.8" font-size="24" font-weight="400" fill="#1b6fb7" letter-spacing="2.05" text-anchor="middle" stroke="#fff" stroke-width="0.45">new</text><text x="1060.3" y="878.9" font-size="24" font-weight="400" fill="#1b6fb7" letter-spacing="2.05" text-anchor="middle" stroke="#fff" stroke-width="0.45">england</text><text x="1060.0" y="917.2" font-size="29.3" font-weight="700" fill="#1b6fb7" letter-spacing="2.9" text-anchor="middle" >4.82%</text><text x="581.2" y="1634.2" font-size="24" font-weight="400" fill="#1b6fb7" letter-spacing="2.05" text-anchor="middle" stroke="#fff" stroke-width="0.45">west south</text><text x="581.2" y="1663.7" font-size="24" font-weight="400" fill="#1b6fb7" letter-spacing="2.05" text-anchor="middle" stroke="#fff" stroke-width="0.45">central</text><text x="581.6" y="1701.6" font-size="29.3" font-weight="700" fill="#1b6fb7" letter-spacing="2.9" text-anchor="middle" >4.31%</text><text x="801.6" y="1550.2" font-size="24" font-weight="400" fill="#1b6fb7" letter-spacing="2.05" text-anchor="middle" stroke="#fff" stroke-width="0.45">east south</text><text x="801.6" y="1579.1" font-size="24" font-weight="400" fill="#1b6fb7" letter-spacing="2.05" text-anchor="middle" stroke="#fff" stroke-width="0.45">central</text><text x="801.1" y="1617.0" font-size="29.3" font-weight="700" fill="#1b6fb7" letter-spacing="2.9" text-anchor="middle" >6.07%</text><text x="999.6" y="1634.2" font-size="24" font-weight="400" fill="#1b6fb7" letter-spacing="2.05" text-anchor="middle" stroke="#fff" stroke-width="0.45">south</text><text x="999.6" y="1663.7" font-size="24" font-weight="400" fill="#1b6fb7" letter-spacing="2.05" text-anchor="middle" stroke="#fff" stroke-width="0.45">atlantic</text><text x="999.9" y="1701.6" font-size="29.3" font-weight="700" fill="#1b6fb7" letter-spacing="2.9" text-anchor="middle" >6.17%</text><g stroke="#fff" stroke-width="2" stroke-linejoin="round"><path d="M770.4,2526.0L805.1,2520.9L812.2,2541.4L822.4,2571.5L828.8,2581.5L828.4,2584.0L831.0,2585.1L828.0,2588.8L827.6,2596.3L830.9,2603.3L830.5,2610.0L833.9,2616.2L823.7,2618.1L779.9,2625.0L779.7,2628.3L785.1,2632.3L784.9,2636.5L786.8,2638.2L784.2,2642.3L781.5,2643.5L775.6,2640.3L774.2,2634.3L772.5,2633.9L771.1,2643.2L765.5,2642.8L758.8,2605.5L756.1,2530.8L753.7,2528.5Z" fill="#b5b5b5"/><path d="M341.2,2490.8L329.8,2631.1L287.4,2627.2L213.5,2589.2L216.2,2584.0L220.4,2583.6L221.8,2581.6L221.3,2576.9L218.5,2576.3L218.5,2567.0L223.1,2564.1L224.2,2554.6L227.2,2550.6L233.5,2546.5L230.0,2542.5L225.5,2531.1L225.9,2528.0L227.6,2524.8L227.7,2500.6L235.0,2500.7L236.9,2504.0L238.9,2504.1L241.5,2500.2L244.2,2480.3L313.0,2488.1Z" fill="#f36f3a"/><path d="M626.1,2504.3L710.6,2496.4L712.8,2501.0L707.6,2509.3L720.3,2507.7L720.2,2512.4L717.5,2514.1L717.3,2518.0L714.1,2522.5L715.1,2528.4L713.7,2533.0L711.8,2533.9L713.2,2535.9L710.3,2538.2L709.4,2542.5L707.4,2543.9L708.3,2548.7L704.8,2550.4L705.1,2552.1L701.4,2556.6L702.9,2559.2L699.7,2563.5L697.3,2571.4L701.2,2574.3L699.6,2576.5L701.3,2581.5L700.1,2585.0L650.1,2589.4L641.2,2590.1L640.2,2576.9L637.2,2576.1L633.3,2577.6L631.0,2575.4L628.9,2531.8L623.3,2504.5Z" fill="#b5b5b5"/><path d="M135.4,2335.5L153.9,2339.3L145.6,2381.5L139.3,2412.4L205.5,2500.6L225.9,2528.0L225.5,2531.1L230.0,2542.5L233.5,2546.5L227.2,2550.6L224.2,2554.6L223.1,2564.1L218.5,2567.0L218.5,2576.3L221.3,2576.9L221.8,2581.6L220.4,2583.6L216.2,2584.0L188.8,2582.2L166.5,2580.8L164.5,2577.2L164.8,2565.8L162.6,2561.0L150.3,2547.1L148.5,2548.3L145.6,2546.8L146.5,2544.5L143.9,2538.9L139.0,2539.1L131.4,2533.9L130.7,2530.7L125.9,2526.1L119.5,2525.0L114.7,2522.3L107.9,2521.7L105.1,2517.8L108.1,2505.1L103.7,2500.5L104.5,2495.5L102.6,2494.8L98.3,2488.5L92.6,2474.0L89.8,2470.3L90.8,2462.3L92.1,2463.3L94.5,2458.9L92.7,2454.1L89.2,2453.9L84.9,2445.6L85.8,2442.8L84.5,2438.4L86.0,2432.0L89.5,2432.8L90.0,2423.6L88.3,2424.2L87.0,2428.5L83.1,2428.6L79.4,2424.2L80.0,2418.4L78.2,2413.2L75.1,2409.5L69.8,2398.3L71.2,2396.7L70.6,2388.0L72.8,2383.7L72.8,2376.6L69.7,2368.8L66.1,2364.0L66.3,2359.4L75.2,2346.6L75.0,2343.6L78.4,2336.7L78.5,2329.7L77.0,2327.7L79.1,2322.6Z" fill="#b5b5b5"/><path d="M370.0,2393.0L410.3,2395.4L441.3,2396.4L478.2,2397.1L478.0,2422.0L477.6,2496.9L458.9,2496.5L432.9,2496.0L372.8,2493.0L341.2,2490.8L343.6,2461.8L345.3,2438.0L349.2,2391.5Z" fill="#b5b5b5"/><path d="M998.2,2295.4L1020.1,2288.9L1020.3,2289.3L1024.7,2303.3L1024.4,2305.8L1022.7,2305.9L1015.6,2310.2L1006.3,2312.5L1003.4,2317.0L999.5,2319.3L995.3,2323.6L993.2,2321.2L996.7,2317.3L994.9,2315.7L990.6,2297.4Z" fill="#8fa639"/><path d="M972.0,2361.0L971.1,2364.3L969.7,2366.4L971.2,2370.1L974.8,2372.9L977.2,2378.6L982.8,2383.7L984.7,2383.5L987.9,2391.5L975.9,2394.6L965.8,2364.8L968.2,2361.3Z" fill="#b5b5b5"/><path d="M947.8,2388.4L950.7,2390.2L948.9,2393.3L946.6,2390.3Z" fill="#b5b5b5"/><path d="M823.7,2618.1L833.9,2616.2L838.0,2622.8L893.8,2615.8L895.9,2620.8L898.4,2620.1L896.6,2610.7L898.1,2608.4L909.1,2609.2L912.6,2619.4L917.8,2630.6L927.2,2644.7L940.2,2659.1L939.1,2660.6L941.2,2668.1L959.7,2696.6L963.0,2722.4L961.0,2723.2L960.2,2729.8L961.4,2731.6L958.2,2737.0L956.3,2736.3L945.8,2741.6L943.2,2739.6L943.4,2735.8L936.1,2726.2L931.9,2725.1L928.8,2727.2L923.2,2717.2L917.6,2712.7L915.8,2709.4L915.4,2704.1L912.8,2703.7L914.0,2706.6L911.9,2707.9L899.0,2693.5L903.5,2682.6L899.4,2684.0L897.2,2687.6L893.4,2683.4L894.5,2669.4L893.1,2658.3L890.0,2656.2L888.5,2652.7L884.2,2652.7L878.4,2647.8L874.1,2646.2L873.2,2642.6L870.3,2641.8L867.3,2638.2L858.3,2634.4L851.5,2636.9L852.5,2640.6L850.1,2640.3L842.2,2646.4L833.0,2649.1L832.8,2646.4L830.0,2643.6L817.9,2638.2L809.6,2636.4L796.7,2638.1L784.2,2642.3L786.8,2638.2L784.9,2636.5L785.1,2632.3L779.7,2628.3L779.9,2625.0Z" fill="#b5b5b5"/><path d="M854.3,2511.6L851.1,2517.6L851.3,2520.3L858.9,2524.2L860.9,2523.4L870.3,2535.2L885.3,2544.4L885.7,2547.3L890.1,2551.0L896.3,2553.6L899.8,2562.5L902.9,2563.6L907.5,2569.4L908.5,2573.5L913.7,2574.6L910.4,2583.9L909.7,2596.4L907.8,2598.6L909.1,2609.2L898.1,2608.4L896.6,2610.7L898.4,2620.1L895.9,2620.8L893.8,2615.8L838.0,2622.8L833.9,2616.2L830.5,2610.0L830.9,2603.3L827.6,2596.3L828.0,2588.8L831.0,2585.1L828.4,2584.0L828.8,2581.5L822.4,2571.5L812.2,2541.4L805.1,2520.9L830.5,2516.4L844.4,2513.9Z" fill="#f36f3a"/><path d="M251.3,2181.3L247.4,2206.0L251.7,2213.6L250.8,2220.2L256.8,2225.2L262.5,2237.2L266.6,2240.4L266.5,2242.0L271.4,2242.5L266.5,2256.9L267.8,2260.9L264.3,2263.2L265.2,2265.9L264.0,2268.4L267.3,2271.5L274.0,2266.3L276.7,2269.1L277.1,2275.9L281.1,2283.3L280.4,2288.0L282.2,2290.2L285.7,2291.0L287.0,2299.2L288.9,2300.8L291.0,2298.7L296.4,2299.5L300.7,2297.8L302.9,2299.3L307.1,2298.7L307.8,2300.1L311.5,2299.5L316.0,2294.9L318.3,2299.5L321.2,2302.3L315.0,2363.4L294.8,2361.3L260.8,2357.1L207.1,2348.9L214.6,2304.1L218.2,2296.5L217.1,2294.3L213.8,2293.3L213.2,2289.8L218.1,2281.7L222.4,2277.9L222.5,2275.5L231.4,2262.2L230.6,2258.6L226.8,2256.3L225.2,2251.7L225.8,2247.5L224.3,2242.9L230.2,2208.5L235.2,2178.7Z" fill="#f36f3a"/><path d="M684.2,2348.8L717.5,2345.2L735.1,2342.7L735.2,2347.5L738.7,2352.6L742.9,2361.2L751.3,2419.4L749.9,2424.1L754.0,2433.3L749.3,2446.2L747.2,2447.0L748.2,2450.0L746.9,2451.4L746.6,2457.4L747.4,2458.9L745.4,2462.8L747.8,2466.9L740.2,2470.2L739.8,2472.9L742.1,2475.9L739.9,2478.3L732.3,2475.4L730.1,2476.0L727.7,2480.7L728.9,2481.9L725.7,2482.1L720.5,2475.6L721.9,2473.7L719.2,2465.4L712.4,2460.9L710.4,2461.7L701.7,2454.3L701.3,2450.4L704.5,2438.2L697.3,2436.2L695.4,2438.7L693.8,2437.4L691.7,2429.4L678.4,2419.1L674.5,2406.7L675.8,2403.0L675.6,2398.5L680.5,2395.3L680.6,2391.4L682.7,2388.7L682.5,2384.3L679.2,2381.2L679.9,2376.7L686.8,2374.7L692.2,2370.9L692.3,2367.1L694.5,2365.2L693.8,2357.3L689.5,2355.3L688.7,2352.8Z" fill="#8fa639"/><path d="M791.7,2352.1L792.0,2353.7L797.2,2383.0L803.0,2417.3L801.7,2418.6L804.4,2425.0L801.2,2425.7L798.1,2428.6L793.0,2428.4L794.1,2433.2L791.2,2435.7L790.5,2439.0L787.4,2440.8L786.6,2447.3L784.7,2449.3L780.1,2447.6L778.9,2444.9L775.2,2448.7L776.0,2451.3L771.8,2453.0L770.2,2450.7L765.8,2453.9L764.6,2456.7L759.3,2453.8L756.9,2454.9L754.9,2453.4L753.6,2455.4L748.9,2456.4L747.4,2458.9L746.6,2457.4L746.9,2451.4L748.2,2450.0L747.2,2447.0L749.3,2446.2L754.0,2433.3L749.9,2424.1L751.3,2419.4L742.9,2361.2L744.9,2362.6L750.5,2361.8L755.4,2358.1Z" fill="#b5b5b5"/><path d="M668.6,2325.8L671.3,2325.5L671.9,2329.1L674.7,2331.3L672.9,2334.5L675.9,2343.7L682.6,2345.9L684.2,2348.8L688.7,2352.8L689.5,2355.3L693.8,2357.3L694.5,2365.2L692.3,2367.1L692.2,2370.9L686.8,2374.7L679.9,2376.7L679.2,2381.2L682.5,2384.3L682.7,2388.7L680.6,2391.4L680.5,2395.3L675.6,2398.5L675.8,2403.0L673.7,2402.4L669.4,2397.8L615.8,2403.5L594.8,2404.5L592.4,2401.3L593.1,2394.9L590.9,2389.4L590.7,2383.1L587.4,2381.1L587.6,2374.7L586.2,2370.4L583.6,2368.9L579.7,2358.0L576.1,2352.7L579.1,2342.2L576.7,2339.9L576.0,2333.6L578.3,2332.9Z" fill="#b5b5b5"/><path d="M480.7,2422.1L604.2,2418.5L606.2,2420.7L612.4,2422.2L608.7,2429.7L614.6,2437.6L618.7,2438.6L622.4,2492.2L515.8,2496.7L477.6,2496.9L478.0,2422.0Z" fill="#b5b5b5"/><path d="M844.5,2423.2L847.7,2426.1L848.7,2433.5L857.1,2443.4L861.3,2445.4L863.9,2445.3L857.9,2453.4L851.7,2458.4L852.0,2460.2L849.5,2462.4L849.7,2464.6L846.2,2466.2L845.5,2469.2L835.8,2474.6L835.6,2475.1L754.9,2487.2L750.5,2486.7L751.4,2491.1L727.2,2494.1L724.9,2494.7L725.5,2491.4L728.6,2492.1L728.9,2481.9L727.7,2480.7L730.1,2476.0L732.3,2475.4L739.9,2478.3L742.1,2475.9L739.8,2472.9L740.2,2470.2L747.8,2466.9L745.4,2462.8L747.4,2458.9L748.9,2456.4L753.6,2455.4L754.9,2453.4L756.9,2454.9L759.3,2453.8L764.6,2456.7L765.8,2453.9L770.2,2450.7L771.8,2453.0L776.0,2451.3L775.2,2448.7L778.9,2444.9L780.1,2447.6L784.7,2449.3L786.6,2447.3L787.4,2440.8L790.5,2439.0L791.2,2435.7L794.1,2433.2L793.0,2428.4L798.1,2428.6L801.2,2425.7L804.4,2425.0L801.7,2418.6L803.0,2417.3L810.1,2416.0L815.5,2422.5L821.5,2422.3L826.4,2424.9L829.0,2422.6L836.5,2423.1L840.5,2419.0L842.2,2423.0Z" fill="#b5b5b5"/><path d="M650.1,2589.4L700.1,2585.0L702.3,2587.7L700.9,2588.9L701.3,2593.9L704.6,2596.7L705.9,2604.0L704.0,2609.9L699.5,2613.9L698.8,2619.6L696.7,2619.3L697.3,2628.3L694.8,2628.9L696.8,2633.6L695.5,2635.5L735.1,2631.0L734.0,2639.3L738.1,2644.3L739.4,2648.2L742.3,2650.5L736.5,2654.6L736.3,2657.1L741.6,2658.0L743.3,2653.9L748.2,2657.2L748.3,2660.3L745.9,2662.0L740.9,2661.4L741.8,2663.6L740.6,2667.3L745.1,2669.9L751.7,2670.0L754.5,2673.3L756.5,2673.6L753.6,2678.2L749.8,2677.8L746.1,2673.9L737.9,2672.6L737.4,2668.5L733.7,2670.3L734.4,2673.7L733.0,2677.2L730.3,2678.0L727.7,2674.7L722.8,2675.1L721.5,2679.1L718.3,2680.5L711.7,2678.6L708.3,2672.9L703.3,2670.7L701.4,2671.3L699.0,2666.4L693.5,2667.6L693.1,2664.6L687.9,2668.1L688.8,2670.3L684.8,2672.8L664.8,2668.7L653.3,2670.9L651.9,2671.9L649.8,2669.6L654.1,2660.5L652.1,2655.9L653.4,2653.2L652.4,2649.9L656.0,2640.6L655.2,2635.4L648.7,2625.9L648.1,2620.5L643.2,2615.4L641.2,2590.1Z" fill="#8fa639"/><path d="M1030.9,2258.3L1024.2,2253.1L1007.1,2207.7L1013.1,2202.1L1011.4,2200.9L1016.0,2189.5L1013.8,2185.7L1013.3,2179.0L1015.1,2176.1L1013.8,2169.3L1020.0,2147.3L1023.1,2147.0L1024.8,2151.2L1027.4,2152.0L1036.5,2144.1L1046.0,2148.2L1057.6,2180.3L1063.8,2179.9L1064.0,2182.9L1066.4,2184.9L1066.1,2187.6L1069.7,2190.3L1072.4,2188.4L1078.5,2195.5L1076.5,2200.5L1074.0,2199.8L1073.3,2202.9L1070.7,2203.2L1071.3,2205.4L1068.1,2206.3L1065.1,2213.1L1062.6,2210.1L1060.8,2210.4L1063.0,2213.8L1059.8,2217.0L1057.8,2214.4L1056.6,2216.6L1052.3,2218.1L1051.0,2214.7L1048.7,2216.3L1050.4,2225.8L1048.3,2229.7L1044.9,2229.8L1044.1,2233.4L1041.6,2234.6L1040.4,2237.8L1037.6,2238.2L1036.0,2235.9L1033.6,2241.2L1035.5,2243.5L1033.0,2245.3L1033.6,2247.6L1031.4,2251.3Z" fill="#b5b5b5"/><path d="M898.6,2381.9L965.8,2364.8L975.9,2394.6L987.9,2391.5L987.1,2402.6L979.7,2406.7L976.0,2408.8L965.6,2395.1L962.5,2376.6L963.1,2371.3L960.8,2373.0L958.5,2379.0L961.9,2397.4L966.2,2407.7L960.9,2405.0L954.3,2404.8L951.5,2401.6L948.6,2404.6L946.5,2402.0L948.3,2397.6L948.9,2393.3L950.7,2390.2L947.8,2388.4L946.6,2390.3L943.6,2388.7L939.5,2388.5L938.6,2384.9L936.1,2383.4L933.2,2383.7L929.3,2377.5L926.2,2378.3L922.6,2376.8L921.3,2379.1L918.3,2379.7L918.3,2382.5L912.4,2382.1L909.7,2386.6L907.1,2386.4L901.3,2394.5Z" fill="#8fa639"/><path d="M1030.4,2263.4L1032.5,2267.3L1032.8,2270.9L1031.1,2274.9L1032.2,2278.5L1036.2,2277.8L1043.5,2286.7L1049.2,2287.3L1054.0,2283.2L1053.9,2286.9L1046.6,2292.5L1043.6,2293.7L1041.0,2292.1L1038.4,2293.7L1038.9,2295.4L1036.0,2297.5L1030.1,2292.0L1027.4,2286.7L1024.8,2287.5L1020.3,2289.3L1020.1,2288.9L998.2,2295.4L990.6,2297.4L990.0,2296.6L989.4,2279.7L1003.5,2275.8L1023.6,2270.2L1024.8,2267.4L1028.6,2263.5Z" fill="#b5b5b5"/><path d="M816.1,2348.3L792.0,2353.7L791.7,2352.1L755.4,2358.1L758.6,2354.3L761.9,2344.7L762.7,2332.9L761.1,2325.7L753.7,2312.3L754.5,2306.7L752.3,2300.5L755.3,2293.3L754.2,2284.8L756.8,2283.1L756.6,2279.1L760.8,2277.3L763.5,2272.3L764.7,2281.2L766.5,2281.3L768.0,2276.5L766.9,2269.0L768.0,2266.9L772.4,2264.9L770.0,2259.9L772.3,2255.0L776.1,2254.1L780.9,2256.1L785.1,2255.8L787.8,2258.8L798.8,2260.2L802.7,2264.9L800.8,2268.1L805.4,2275.2L806.1,2284.4L803.1,2287.4L803.1,2292.2L799.2,2294.6L797.9,2300.6L799.2,2302.6L803.8,2303.8L809.1,2293.1L814.6,2289.6L817.9,2290.8L820.4,2293.9L828.7,2314.4L828.6,2323.6L826.0,2325.5L825.3,2322.3L823.5,2323.6L822.7,2331.4L819.7,2334.9L819.7,2340.7L816.1,2346.3Z" fill="#b5b5b5"/><path d="M649.3,2248.3L647.9,2247.3L644.7,2249.7L646.1,2264.2L640.5,2268.2L637.1,2273.8L637.1,2277.3L639.1,2277.4L641.6,2280.3L639.9,2284.3L640.3,2297.5L645.2,2301.6L648.9,2301.6L651.0,2304.1L656.6,2306.3L657.8,2309.5L666.1,2313.8L670.1,2318.8L670.0,2322.8L671.3,2325.5L668.6,2325.8L578.3,2332.9L576.0,2288.5L571.9,2285.9L568.7,2281.3L573.1,2275.8L573.4,2273.0L572.2,2263.2L568.4,2255.4L566.3,2232.1L561.2,2219.3L560.2,2209.5L561.1,2206.1L558.6,2198.4L592.6,2196.6L592.0,2187.3L595.2,2187.3L597.5,2189.0L600.5,2201.5L608.5,2204.0L614.8,2204.1L615.7,2206.7L621.1,2205.6L621.0,2204.5L625.1,2202.8L628.8,2203.0L633.2,2204.7L634.6,2207.1L637.1,2206.6L639.8,2211.8L640.7,2209.5L644.7,2208.0L645.7,2210.2L650.7,2211.3L650.9,2213.4L653.6,2214.9L658.4,2213.5L665.1,2208.8L666.9,2212.3L676.9,2210.6L681.7,2213.1L685.9,2212.1L680.5,2217.2L668.4,2223.6L647.9,2246.4Z" fill="#b5b5b5"/><path d="M748.4,2529.3L753.7,2528.5L756.1,2530.8L758.8,2605.5L765.5,2642.8L763.3,2644.2L758.2,2644.3L755.9,2643.0L744.3,2648.4L742.3,2650.5L739.4,2648.2L738.1,2644.3L734.0,2639.3L735.1,2631.0L695.5,2635.5L696.8,2633.6L694.8,2628.9L697.3,2628.3L696.7,2619.3L698.8,2619.6L699.5,2613.9L704.0,2609.9L705.9,2604.0L704.6,2596.7L701.3,2593.9L700.9,2588.9L702.3,2587.7L700.1,2585.0L701.3,2581.5L699.6,2576.5L701.2,2574.3L697.3,2571.4L699.7,2563.5L702.9,2559.2L701.4,2556.6L705.1,2552.1L704.8,2550.4L708.3,2548.7L707.4,2543.9L709.4,2542.5L710.3,2538.2L713.2,2535.9L711.8,2533.9Z" fill="#b5b5b5"/><path d="M673.7,2402.4L675.8,2403.0L674.5,2406.7L678.4,2419.1L691.7,2429.4L693.8,2437.4L695.4,2438.7L697.3,2436.2L704.5,2438.2L701.3,2450.4L701.7,2454.3L710.4,2461.7L712.4,2460.9L719.2,2465.4L721.9,2473.7L720.5,2475.6L725.7,2482.1L728.9,2481.9L728.6,2492.1L725.5,2491.4L724.9,2494.7L723.6,2494.8L722.5,2495.0L723.4,2501.0L720.3,2507.7L707.6,2509.3L712.8,2501.0L710.6,2496.4L626.1,2504.3L623.3,2504.5L622.4,2492.2L618.7,2438.6L614.6,2437.6L608.7,2429.7L612.4,2422.2L606.2,2420.7L604.2,2418.5L599.2,2412.2L594.8,2404.5L615.8,2403.5L669.4,2397.8Z" fill="#b5b5b5"/><path d="M447.0,2199.3L446.3,2227.1L444.8,2274.1L444.3,2297.5L444.0,2297.5L411.7,2296.1L322.5,2289.4L321.2,2302.3L318.3,2299.5L316.0,2294.9L311.5,2299.5L307.8,2300.1L307.1,2298.7L302.9,2299.3L300.7,2297.8L296.4,2299.5L291.0,2298.7L288.9,2300.8L287.0,2299.2L285.7,2291.0L282.2,2290.2L280.4,2288.0L281.1,2283.3L277.1,2275.9L276.7,2269.1L274.0,2266.3L267.3,2271.5L264.0,2268.4L265.2,2265.9L264.3,2263.2L267.8,2260.9L266.5,2256.9L271.4,2242.5L266.5,2242.0L266.6,2240.4L262.5,2237.2L256.8,2225.2L250.8,2220.2L251.7,2213.6L247.4,2206.0L251.3,2181.3L325.1,2191.2L358.5,2194.2Z" fill="#b5b5b5"/><path d="M455.7,2347.1L542.3,2346.9L552.3,2352.2L554.4,2349.7L565.4,2349.8L575.1,2354.0L576.4,2357.5L579.7,2358.0L583.6,2368.9L586.2,2370.4L587.6,2374.7L587.4,2381.1L590.7,2383.1L590.9,2389.4L593.1,2394.9L592.4,2401.3L594.8,2404.5L599.2,2412.2L604.2,2418.5L480.7,2422.1L478.0,2422.0L478.2,2397.1L441.3,2396.4L442.7,2346.8Z" fill="#b5b5b5"/><path d="M207.1,2348.9L260.8,2357.1L244.2,2480.3L241.5,2500.2L238.9,2504.1L236.9,2504.0L235.0,2500.7L227.7,2500.6L227.6,2524.8L225.9,2528.0L205.5,2500.6L139.3,2412.4L145.6,2381.5L153.9,2339.3L177.1,2343.9Z" fill="#f36f3a"/><path d="M1007.1,2207.7L1024.2,2253.1L1030.9,2258.3L1030.4,2263.4L1028.6,2263.5L1024.8,2267.4L1023.6,2270.2L1003.5,2275.8L1001.4,2274.5L1000.5,2270.9L1001.6,2269.1L998.5,2255.4L1000.7,2241.7L998.7,2235.9L1003.6,2231.9L1005.1,2227.0L1002.3,2223.7L1003.3,2219.1L1002.4,2216.8L1002.7,2210.0L1006.7,2209.4Z" fill="#b5b5b5"/><path d="M983.9,2323.0L990.8,2324.6L990.7,2332.2L988.3,2334.6L987.8,2338.7L993.2,2339.1L994.4,2341.7L996.0,2355.2L988.8,2377.2L985.9,2373.7L980.1,2373.3L972.1,2369.8L970.5,2365.9L971.1,2364.3L972.0,2361.0L976.3,2357.6L976.1,2355.7L980.5,2350.2L980.8,2347.8L974.3,2344.5L973.2,2341.5L970.8,2341.4L969.8,2338.7L971.3,2333.7L969.2,2331.6L972.4,2322.5L974.3,2320.1Z" fill="#b5b5b5"/><path d="M372.8,2493.0L432.9,2496.0L458.9,2496.5L458.7,2509.0L458.0,2508.9L455.4,2620.8L381.6,2618.1L380.9,2620.5L383.1,2623.5L348.1,2621.2L347.3,2632.5L329.8,2631.1L341.2,2490.8Z" fill="#b5b5b5"/><path d="M971.8,2226.4L973.9,2235.9L976.7,2239.7L977.2,2249.8L980.6,2255.9L980.3,2258.1L984.2,2261.2L988.6,2277.7L989.4,2279.7L990.0,2296.6L990.6,2297.4L994.9,2315.7L996.7,2317.3L993.2,2321.2L995.3,2323.6L1003.4,2323.2L1004.5,2321.3L1014.0,2317.5L1018.2,2312.1L1019.5,2314.7L1022.7,2315.0L1005.2,2330.0L993.5,2335.6L990.7,2332.2L990.8,2324.6L983.9,2323.0L974.3,2320.1L973.0,2318.6L970.3,2319.3L965.9,2316.1L965.3,2312.5L958.3,2308.1L880.6,2327.9L879.1,2321.4L888.3,2312.0L889.3,2308.3L892.2,2305.2L888.2,2301.0L885.6,2294.7L895.1,2289.4L907.9,2287.1L912.5,2288.7L922.2,2285.2L926.3,2282.3L929.9,2276.7L933.0,2275.7L931.3,2269.2L931.9,2264.9L927.3,2263.4L927.4,2260.1L933.0,2254.2L940.5,2239.8L947.0,2233.6L958.5,2230.9Z" fill="#b5b5b5"/><path d="M887.8,2465.0L916.1,2459.2L985.3,2441.4L990.1,2450.4L996.8,2458.1L1001.4,2469.2L987.9,2483.7L985.3,2491.7L980.4,2490.4L973.9,2493.4L962.6,2510.4L962.1,2516.9L956.9,2516.9L950.5,2519.8L922.7,2502.1L900.6,2506.6L900.3,2503.8L896.4,2500.3L894.7,2502.2L894.0,2499.7L869.7,2503.6L860.8,2508.7L854.3,2511.6L844.4,2513.9L830.5,2516.4L830.0,2510.5L833.8,2509.3L834.6,2505.0L838.7,2500.4L844.0,2499.3L848.1,2494.6L852.9,2492.3L858.4,2483.9L859.4,2486.2L866.1,2479.9L869.8,2480.2L871.3,2475.1L874.6,2473.2L874.2,2467.3Z" fill="#b5b5b5"/><path d="M558.6,2198.4L561.1,2206.1L560.2,2209.5L561.2,2219.3L566.3,2232.1L568.4,2255.4L572.2,2263.2L573.4,2273.0L444.8,2274.1L446.3,2227.1L447.0,2199.3Z" fill="#8fa639"/><path d="M867.3,2331.5L874.6,2364.1L872.2,2366.0L874.8,2372.1L873.9,2387.8L868.4,2397.2L866.3,2398.8L864.0,2397.6L862.6,2401.6L860.4,2401.9L859.0,2407.0L860.1,2409.7L858.7,2412.4L855.2,2409.2L852.9,2415.8L854.6,2419.4L852.6,2421.2L852.5,2424.5L847.7,2426.1L844.5,2423.2L842.2,2423.0L840.5,2419.0L836.5,2423.1L829.0,2422.6L826.4,2424.9L821.5,2422.3L815.5,2422.5L810.1,2416.0L803.0,2417.3L797.2,2383.0L792.0,2353.7L816.1,2348.3L823.8,2350.3L826.5,2351.9L827.9,2349.7L835.3,2353.5L843.1,2348.6L848.1,2348.2L859.2,2336.5Z" fill="#b5b5b5"/><path d="M515.8,2496.7L622.4,2492.2L623.3,2504.5L628.9,2531.8L631.0,2575.4L623.0,2573.3L620.8,2570.5L615.4,2568.4L614.2,2570.7L609.0,2570.9L607.8,2569.6L603.2,2572.3L601.1,2571.1L596.8,2572.6L593.0,2576.6L591.4,2574.5L587.1,2572.9L582.6,2573.1L581.0,2570.4L576.2,2576.2L574.4,2573.1L572.1,2574.2L565.3,2570.5L561.9,2573.9L560.2,2570.5L557.3,2570.2L555.6,2567.6L551.6,2566.6L549.2,2569.0L547.4,2567.0L534.9,2565.7L533.3,2561.0L524.5,2561.7L519.9,2557.0L518.3,2557.3L517.7,2509.0L482.1,2509.2L458.7,2509.0L458.9,2496.5L477.6,2496.9Z" fill="#8fa639"/><path d="M190.2,2245.4L225.2,2251.7L226.8,2256.3L230.6,2258.6L231.4,2262.2L222.5,2275.5L222.4,2277.9L218.1,2281.7L213.2,2289.8L213.8,2293.3L217.1,2294.3L218.2,2296.5L214.6,2304.1L207.1,2348.9L177.1,2343.9L153.9,2339.3L135.4,2335.5L79.1,2322.6L77.2,2319.2L79.4,2305.7L78.1,2300.9L90.5,2279.2L101.6,2247.9L107.8,2224.8L115.3,2222.9L117.5,2226.3L122.0,2226.4L124.9,2229.7L125.0,2240.4L133.1,2245.0L141.3,2242.8L146.0,2243.4L151.1,2245.9L151.3,2247.6L161.2,2246.1L163.2,2247.7L168.3,2248.1L173.0,2246.5L187.6,2246.6Z" fill="#b5b5b5"/><path d="M973.0,2318.6L974.3,2320.1L972.4,2322.5L969.2,2331.6L971.3,2333.7L969.8,2338.7L970.8,2341.4L973.2,2341.5L974.3,2344.5L980.8,2347.8L980.5,2350.2L976.1,2355.7L976.3,2357.6L972.0,2361.0L968.2,2361.3L965.8,2364.8L898.6,2381.9L879.5,2386.3L874.6,2364.1L867.3,2331.5L870.3,2329.4L879.1,2321.4L880.6,2327.9L958.3,2308.1L965.3,2312.5L965.9,2316.1L970.3,2319.3Z" fill="#b5b5b5"/><path d="M1024.8,2287.5L1027.4,2286.7L1030.1,2292.0L1036.0,2297.5L1032.7,2299.1L1030.3,2293.3L1030.6,2302.5L1024.4,2305.8L1024.7,2303.3L1020.3,2289.3Z" fill="#b5b5b5"/><path d="M860.8,2508.7L869.7,2503.6L894.0,2499.7L894.7,2502.2L896.4,2500.3L900.3,2503.8L900.6,2506.6L922.7,2502.1L950.5,2519.8L947.3,2521.8L941.2,2534.1L941.6,2539.3L939.1,2544.0L934.6,2545.1L934.3,2548.2L928.5,2556.6L924.6,2559.0L920.9,2565.5L917.1,2568.5L913.7,2574.6L908.5,2573.5L907.5,2569.4L902.9,2563.6L899.8,2562.5L896.3,2553.6L890.1,2551.0L885.7,2547.3L885.3,2544.4L870.3,2535.2L860.9,2523.4L858.9,2524.2L851.3,2520.3L851.1,2517.6L854.3,2511.6Z" fill="#b5b5b5"/><path d="M444.8,2274.1L573.4,2273.0L573.1,2275.8L568.7,2281.3L571.9,2285.9L576.0,2288.5L578.3,2332.9L576.0,2333.6L576.7,2339.9L579.1,2342.2L576.1,2352.7L579.7,2358.0L576.4,2357.5L575.1,2354.0L565.4,2349.8L554.4,2349.7L552.3,2352.2L542.3,2346.9L455.7,2347.1L442.7,2346.8L444.0,2297.5L444.3,2297.5Z" fill="#b5b5b5"/><path d="M835.6,2475.1L835.8,2474.6L874.2,2467.3L874.6,2473.2L871.3,2475.1L869.8,2480.2L866.1,2479.9L859.4,2486.2L858.4,2483.9L852.9,2492.3L848.1,2494.6L844.0,2499.3L838.7,2500.4L834.6,2505.0L833.8,2509.3L830.0,2510.5L830.5,2516.4L805.1,2520.9L770.4,2526.0L753.7,2528.5L748.4,2529.3L711.8,2533.9L713.7,2533.0L715.1,2528.4L714.1,2522.5L717.3,2518.0L717.5,2514.1L720.2,2512.4L720.3,2507.7L723.4,2501.0L722.5,2495.0L723.6,2494.8L724.9,2494.7L727.2,2494.1L751.4,2491.1L750.5,2486.7L754.9,2487.2Z" fill="#b5b5b5"/><path d="M482.1,2509.2L517.7,2509.0L518.3,2557.3L519.9,2557.0L524.5,2561.7L533.3,2561.0L534.9,2565.7L547.4,2567.0L549.2,2569.0L551.6,2566.6L555.6,2567.6L557.3,2570.2L560.2,2570.5L561.9,2573.9L565.3,2570.5L572.1,2574.2L574.4,2573.1L576.2,2576.2L581.0,2570.4L582.6,2573.1L587.1,2572.9L591.4,2574.5L593.0,2576.6L596.8,2572.6L601.1,2571.1L603.2,2572.3L607.8,2569.6L609.0,2570.9L614.2,2570.7L615.4,2568.4L620.8,2570.5L623.0,2573.3L631.0,2575.4L633.3,2577.6L637.2,2576.1L640.2,2576.9L641.2,2590.1L643.2,2615.4L648.1,2620.5L648.7,2625.9L655.2,2635.4L656.0,2640.6L652.4,2649.9L653.4,2653.2L652.1,2655.9L654.1,2660.5L649.8,2669.6L651.9,2671.9L641.2,2675.9L633.6,2681.6L633.4,2671.8L628.1,2673.4L629.8,2681.9L625.5,2688.9L615.6,2697.6L598.8,2708.0L594.2,2702.0L585.3,2721.4L581.0,2725.3L576.4,2745.1L585.1,2767.8L579.6,2770.7L573.9,2766.5L561.6,2766.2L541.2,2757.8L533.0,2737.8L531.8,2730.5L524.0,2725.0L514.0,2713.1L506.3,2692.7L490.1,2676.3L476.2,2675.7L469.8,2673.4L463.3,2677.1L458.9,2686.4L452.3,2695.6L434.1,2687.1L422.7,2674.4L419.9,2664.4L413.9,2653.0L389.6,2631.7L383.1,2623.5L380.9,2620.5L381.6,2618.1L455.4,2620.8L458.0,2508.9L458.7,2509.0Z" fill="#b5b5b5"/><path d="M294.8,2361.3L315.0,2363.4L312.4,2388.2L349.2,2391.5L345.3,2438.0L343.6,2461.8L341.2,2490.8L313.0,2488.1L244.2,2480.3L260.8,2357.1Z" fill="#f36f3a"/><path d="M1002.4,2216.8L1003.3,2219.1L1002.3,2223.7L1005.1,2227.0L1003.6,2231.9L998.7,2235.9L1000.7,2241.7L998.5,2255.4L1001.6,2269.1L1000.5,2270.9L1001.4,2274.5L1003.5,2275.8L989.4,2279.7L988.6,2277.7L984.2,2261.2L980.3,2258.1L980.6,2255.9L977.2,2249.8L976.7,2239.7L973.9,2235.9L971.8,2226.4L989.1,2221.3Z" fill="#8fa639"/><path d="M987.1,2402.6L985.8,2407.4L983.6,2409.5L982.2,2425.5L979.5,2428.2L977.6,2425.2L977.2,2417.4L979.7,2406.7ZM932.3,2388.9L933.2,2383.7L936.1,2383.4L938.6,2384.9L939.5,2388.5L943.6,2388.7L946.6,2390.3L948.9,2393.3L948.3,2397.6L946.4,2399.2L945.8,2403.0L947.3,2405.3L952.1,2403.2L954.0,2406.8L960.9,2406.7L963.5,2409.2L969.6,2411.1L969.1,2418.5L972.7,2423.2L970.8,2426.4L971.3,2429.5L974.1,2430.7L972.3,2434.3L967.4,2431.5L966.8,2433.1L971.0,2434.9L980.4,2433.1L985.3,2441.4L916.1,2459.2L887.8,2465.0L874.2,2467.3L835.8,2474.6L845.5,2469.2L846.2,2466.2L849.7,2464.6L849.5,2462.4L852.0,2460.2L851.7,2458.4L857.9,2453.4L863.9,2445.3L864.0,2447.4L867.5,2451.0L871.1,2452.3L873.5,2451.7L876.4,2447.7L879.6,2449.7L891.8,2440.7L892.8,2442.0L895.7,2439.1L894.8,2434.7L901.7,2415.9L901.9,2410.0L905.8,2412.6L909.1,2413.0L912.5,2400.9L915.3,2402.5L921.5,2390.6L920.8,2383.2Z" fill="#b5b5b5"/><path d="M235.4,2178.8L230.2,2208.5L224.3,2242.9L225.8,2247.5L225.2,2251.7L190.2,2245.4L187.6,2246.6L173.0,2246.5L168.3,2248.1L163.2,2247.7L161.2,2246.1L151.3,2247.6L151.1,2245.9L146.0,2243.4L141.3,2242.8L133.1,2245.0L125.0,2240.4L124.9,2229.7L122.0,2226.4L117.5,2226.3L115.3,2222.9L112.5,2221.3L109.7,2222.1L107.0,2219.2L108.4,2216.1L111.0,2214.9L108.9,2209.2L109.4,2184.1L107.0,2179.8L107.5,2172.4L110.4,2168.2L119.0,2175.8L127.8,2179.0L132.3,2178.9L133.8,2181.4L137.7,2182.2L142.6,2179.2L143.9,2166.3L142.2,2163.0L143.4,2160.6Z" fill="#b5b5b5"/><path d="M874.6,2364.1L879.5,2386.3L898.6,2381.9L901.3,2394.5L907.1,2386.4L909.7,2386.6L912.4,2382.1L918.3,2382.5L918.3,2379.7L921.3,2379.1L922.6,2376.8L926.2,2378.3L929.3,2377.5L933.2,2383.7L932.3,2388.9L920.8,2383.2L921.5,2390.6L915.3,2402.5L912.5,2400.9L909.1,2413.0L905.8,2412.6L901.9,2410.0L901.7,2415.9L894.8,2434.7L895.7,2439.1L892.8,2442.0L891.8,2440.7L879.6,2449.7L876.4,2447.7L873.5,2451.7L871.1,2452.3L867.5,2451.0L864.0,2447.4L863.9,2445.3L861.3,2445.4L857.1,2443.4L848.7,2433.5L847.7,2426.1L852.5,2424.5L852.6,2421.2L854.6,2419.4L852.9,2415.8L855.2,2409.2L858.7,2412.4L860.1,2409.7L859.0,2407.0L860.4,2401.9L862.6,2401.6L864.0,2397.6L866.3,2398.8L868.4,2397.2L873.9,2387.8L874.8,2372.1L872.2,2366.0Z" fill="#8fa639"/><path d="M734.8,2335.5L735.1,2342.7L717.5,2345.2L684.2,2348.8L682.6,2345.9L675.9,2343.7L672.9,2334.5L674.7,2331.3L671.9,2329.1L671.3,2325.5L670.0,2322.8L670.1,2318.8L666.1,2313.8L657.8,2309.5L656.6,2306.3L651.0,2304.1L648.9,2301.6L645.2,2301.6L640.3,2297.5L639.9,2284.3L641.6,2280.3L639.1,2277.4L637.1,2277.3L637.1,2273.8L640.5,2268.2L646.1,2264.2L644.7,2249.7L647.9,2247.3L649.3,2248.3L653.2,2248.2L668.5,2240.0L670.2,2241.6L668.3,2245.1L674.3,2248.6L680.0,2249.8L682.4,2253.8L700.5,2256.5L708.2,2259.2L710.3,2258.1L717.9,2259.5L724.3,2264.7L723.6,2272.6L727.7,2272.5L726.6,2276.3L729.6,2278.4L729.4,2281.5L726.2,2282.5L723.6,2292.5L725.7,2292.9L730.2,2284.8L733.5,2282.4L735.4,2275.8L738.8,2273.9L739.0,2277.2L733.7,2291.4L733.8,2301.2L732.2,2302.8L731.4,2308.5L732.6,2313.2L730.5,2324.4Z" fill="#b5b5b5"/><path d="M411.7,2296.1L444.0,2297.5L442.7,2346.8L441.3,2396.4L410.3,2395.4L370.0,2393.0L349.2,2391.5L312.4,2388.2L315.0,2363.4L321.2,2302.3L322.5,2289.4Z" fill="#b5b5b5"/><path d="M104.1,2644.9L122.4,2647.5L149.1,2654.8L150.6,2682.3L151.7,2711.6L157.2,2716.0L165.3,2723.3L171.1,2719.6L176.2,2729.9L182.1,2742.7L179.9,2747.5L173.7,2737.2L168.2,2729.9L160.9,2722.6L151.7,2716.0L127.9,2709.7L123.5,2716.0L119.8,2713.4L109.6,2724.4L113.3,2729.9L105.9,2733.5L98.6,2731.7L94.9,2739.0L88.7,2743.4L87.6,2740.9L94.2,2734.3L96.8,2726.2L87.6,2720.7L81.0,2716.0L75.9,2706.1L78.5,2698.7L87.6,2693.3L84.7,2686.7L70.4,2679.3L84.0,2677.9L88.3,2674.9L73.7,2660.3L85.8,2656.6Z" fill="#b5b5b5" stroke="none"/><path d="M216.5,2687.0L226.8,2683.4L227.9,2688.9L223.1,2695.1L217.3,2691.4ZM237.8,2698.0L245.1,2696.2L249.5,2701.3L254.3,2706.1L243.3,2706.1L238.9,2702.4ZM262.7,2710.5L274.4,2709.0L273.7,2712.3L264.2,2712.7ZM270.0,2720.7L274.4,2721.8L272.2,2723.7ZM283.6,2716.0L288.3,2714.5L294.6,2719.6L304.4,2724.4L303.0,2727.3L292.0,2726.9L284.7,2721.8ZM292.7,2737.9L301.9,2739.0L317.3,2750.0L325.7,2762.8L320.2,2770.2L309.2,2773.8L300.0,2784.8L292.0,2776.8L287.2,2761.0L289.1,2748.2Z" fill="#b5b5b5" stroke="none"/></g><text x="178.3" y="2200.9" font-size="16" font-weight="700" fill="#17294d" letter-spacing="0.9" text-anchor="middle" >WA</text><text x="178.3" y="2220.9" font-size="16" font-weight="700" fill="#17294d" letter-spacing="0.9" text-anchor="middle" >7.9%</text><text x="157.0" y="2282.2" font-size="16" font-weight="700" fill="#17294d" letter-spacing="0.9" text-anchor="middle" >OR</text><text x="157.0" y="2302.8" font-size="16" font-weight="700" fill="#17294d" letter-spacing="0.9" text-anchor="middle" >6.4%</text><text x="140.3" y="2478.7" font-size="16" font-weight="700" fill="#17294d" letter-spacing="0.9" text-anchor="middle" >CA</text><text x="140.3" y="2500.0" font-size="16" font-weight="700" fill="#17294d" letter-spacing="0.9" text-anchor="middle" >5.4%</text><text x="261.6" y="2314.2" font-size="16" font-weight="700" fill="#17294d" letter-spacing="0.9" text-anchor="middle" >ID</text><text x="261.6" y="2336.1" font-size="16" font-weight="700" fill="#17294d" letter-spacing="0.9" text-anchor="middle" >11.9%</text><text x="202.2" y="2402.1" font-size="16" font-weight="700" fill="#17294d" letter-spacing="0.9" text-anchor="middle" >NV</text><text x="202.2" y="2423.4" font-size="16" font-weight="700" fill="#17294d" letter-spacing="0.9" text-anchor="middle" >11.2%</text><text x="363.4" y="2244.2" font-size="16" font-weight="700" fill="#17294d" letter-spacing="0.9" text-anchor="middle" >MT</text><text x="363.4" y="2265.5" font-size="16" font-weight="700" fill="#17294d" letter-spacing="0.9" text-anchor="middle" >7.4%</text><text x="380.1" y="2338.1" font-size="16" font-weight="700" fill="#17294d" letter-spacing="0.9" text-anchor="middle" >WY</text><text x="380.1" y="2358.7" font-size="16" font-weight="700" fill="#17294d" letter-spacing="0.9" text-anchor="middle" >3.9%</text><text x="295.6" y="2435.4" font-size="16" font-weight="700" fill="#17294d" letter-spacing="0.9" text-anchor="middle" >UT</text><text x="295.6" y="2456.7" font-size="16" font-weight="700" fill="#17294d" letter-spacing="0.9" text-anchor="middle" >9.8%</text><text x="411.4" y="2440.7" font-size="16" font-weight="700" fill="#17294d" letter-spacing="0.9" text-anchor="middle" >CO</text><text x="411.4" y="2462.0" font-size="16" font-weight="700" fill="#17294d" letter-spacing="0.9" text-anchor="middle" >6.7%</text><text x="283.6" y="2541.9" font-size="16" font-weight="700" fill="#17294d" letter-spacing="0.9" text-anchor="middle" >AZ</text><text x="283.6" y="2563.2" font-size="16" font-weight="700" fill="#17294d" letter-spacing="0.9" text-anchor="middle" >8.2%</text><text x="400.1" y="2553.2" font-size="16" font-weight="700" fill="#17294d" letter-spacing="0.9" text-anchor="middle" >NM</text><text x="400.1" y="2575.2" font-size="16" font-weight="700" fill="#17294d" letter-spacing="0.9" text-anchor="middle" >3.7%</text><text x="506.6" y="2238.9" font-size="16" font-weight="700" fill="#17294d" letter-spacing="0.9" text-anchor="middle" >ND</text><text x="506.6" y="2260.2" font-size="16" font-weight="700" fill="#17294d" letter-spacing="0.9" text-anchor="middle" >0.02%</text><text x="511.3" y="2308.8" font-size="16" font-weight="700" fill="#17294d" letter-spacing="0.9" text-anchor="middle" >SD</text><text x="511.3" y="2330.8" font-size="16" font-weight="700" fill="#17294d" letter-spacing="0.9" text-anchor="middle" >6.2%</text><text x="524.7" y="2384.7" font-size="16" font-weight="700" fill="#17294d" letter-spacing="0.9" text-anchor="middle" >NE</text><text x="524.7" y="2406.0" font-size="16" font-weight="700" fill="#17294d" letter-spacing="0.9" text-anchor="middle" >5.4%</text><text x="551.2" y="2456.7" font-size="16" font-weight="700" fill="#17294d" letter-spacing="0.9" text-anchor="middle" >KS</text><text x="551.2" y="2478.0" font-size="16" font-weight="700" fill="#17294d" letter-spacing="0.9" text-anchor="middle" >6.9%</text><text x="573.2" y="2527.2" font-size="16" font-weight="700" fill="#17294d" letter-spacing="0.9" text-anchor="middle" >OK</text><text x="573.2" y="2548.5" font-size="16" font-weight="700" fill="#17294d" letter-spacing="0.9" text-anchor="middle" >2.0%</text><text x="535.2" y="2616.5" font-size="16" font-weight="700" fill="#17294d" letter-spacing="0.9" text-anchor="middle" >TX</text><text x="535.2" y="2637.8" font-size="16" font-weight="700" fill="#17294d" letter-spacing="0.9" text-anchor="middle" >5.1%</text><text x="608.5" y="2276.7" font-size="16" font-weight="700" fill="#17294d" letter-spacing="0.9" text-anchor="middle" >MN</text><text x="608.5" y="2297.2" font-size="16" font-weight="700" fill="#17294d" letter-spacing="0.9" text-anchor="middle" >6.5%</text><text x="116.5" y="2675.7" font-size="16" font-weight="700" fill="#17294d" letter-spacing="0.9" text-anchor="middle" >AK</text><text x="116.5" y="2696.2" font-size="16" font-weight="700" fill="#17294d" letter-spacing="0.9" text-anchor="middle" >3.4%</text><text x="249.2" y="2742.2" font-size="16" font-weight="700" fill="#17294d" letter-spacing="0.9" text-anchor="middle" >HI</text><text x="249.2" y="2763.8" font-size="16" font-weight="700" fill="#17294d" letter-spacing="0.9" text-anchor="middle" >5.4%</text><text x="695.5" y="2301.0" font-size="16" font-weight="700" fill="#17294d" letter-spacing="0.9" text-anchor="middle" >WI</text><text x="695.5" y="2322.3" font-size="16" font-weight="700" fill="#17294d" letter-spacing="0.9" text-anchor="middle" >7.6%</text><text x="631.5" y="2361.4" font-size="16" font-weight="700" fill="#17294d" letter-spacing="0.9" text-anchor="middle" >IA</text><text x="631.5" y="2382.7" font-size="16" font-weight="700" fill="#17294d" letter-spacing="0.9" text-anchor="middle" >4.4%</text><text x="716.8" y="2396.9" font-size="16" font-weight="700" fill="#17294d" letter-spacing="0.9" text-anchor="middle" >IL</text><text x="716.8" y="2418.2" font-size="16" font-weight="700" fill="#17294d" letter-spacing="0.9" text-anchor="middle" >2.8%</text><text x="663.5" y="2457.3" font-size="16" font-weight="700" fill="#17294d" letter-spacing="0.9" text-anchor="middle" >MO</text><text x="663.5" y="2477.9" font-size="16" font-weight="700" fill="#17294d" letter-spacing="0.9" text-anchor="middle" >7.3%</text><text x="668.5" y="2536.9" font-size="16" font-weight="700" fill="#17294d" letter-spacing="0.9" text-anchor="middle" >AR</text><text x="668.5" y="2557.5" font-size="16" font-weight="700" fill="#17294d" letter-spacing="0.9" text-anchor="middle" >4.9%</text><text x="677.7" y="2629.2" font-size="16" font-weight="700" fill="#17294d" letter-spacing="0.9" text-anchor="middle" >LA</text><text x="677.7" y="2650.5" font-size="16" font-weight="700" fill="#17294d" letter-spacing="0.9" text-anchor="middle" >1.8%</text><text x="728.8" y="2568.8" font-size="16" font-weight="700" fill="#17294d" letter-spacing="0.9" text-anchor="middle" >MS</text><text x="728.8" y="2590.1" font-size="16" font-weight="700" fill="#17294d" letter-spacing="0.9" text-anchor="middle" >7.1%</text><text x="789.2" y="2570.9" font-size="16" font-weight="700" fill="#17294d" letter-spacing="0.9" text-anchor="middle" >AL</text><text x="789.2" y="2591.5" font-size="16" font-weight="700" fill="#17294d" letter-spacing="0.9" text-anchor="middle" >4.6%</text><text x="862.4" y="2565.3" font-size="16" font-weight="700" fill="#17294d" letter-spacing="0.9" text-anchor="middle" >GA</text><text x="862.4" y="2586.6" font-size="16" font-weight="700" fill="#17294d" letter-spacing="0.9" text-anchor="middle" >8.3%</text><text x="915.7" y="2661.9" font-size="16" font-weight="700" fill="#17294d" letter-spacing="0.9" text-anchor="middle" >FL</text><text x="915.7" y="2683.2" font-size="16" font-weight="700" fill="#17294d" letter-spacing="0.9" text-anchor="middle" >6.8%</text><text x="910.0" y="2522.7" font-size="16" font-weight="700" fill="#17294d" letter-spacing="0.9" text-anchor="middle" >SC</text><text x="910.0" y="2544.7" font-size="16" font-weight="700" fill="#17294d" letter-spacing="0.9" text-anchor="middle" >6.7%</text><text x="944.1" y="2472.9" font-size="16" font-weight="700" fill="#17294d" letter-spacing="0.9" text-anchor="middle" >NC</text><text x="944.1" y="2494.2" font-size="16" font-weight="700" fill="#17294d" letter-spacing="0.9" text-anchor="middle" >6.7%</text><text x="933.4" y="2423.2" font-size="16" font-weight="700" fill="#17294d" letter-spacing="0.9" text-anchor="middle" >VA</text><text x="933.4" y="2444.5" font-size="16" font-weight="700" fill="#17294d" letter-spacing="0.9" text-anchor="middle" >4.4%</text><text x="885.1" y="2411.1" font-size="16" font-weight="700" fill="#17294d" letter-spacing="0.9" text-anchor="middle" >WV</text><text x="885.1" y="2431.7" font-size="16" font-weight="700" fill="#17294d" letter-spacing="0.9" text-anchor="middle" >1.6%</text><text x="812.7" y="2446.7" font-size="16" font-weight="700" fill="#17294d" letter-spacing="0.9" text-anchor="middle" >KY</text><text x="812.7" y="2468.0" font-size="16" font-weight="700" fill="#17294d" letter-spacing="0.9" text-anchor="middle" >5.8%</text><text x="775.0" y="2391.2" font-size="16" font-weight="700" fill="#17294d" letter-spacing="0.9" text-anchor="middle" >IN</text><text x="775.0" y="2412.5" font-size="16" font-weight="700" fill="#17294d" letter-spacing="0.9" text-anchor="middle" >6.3%</text><text x="834.0" y="2379.2" font-size="16" font-weight="700" fill="#17294d" letter-spacing="0.9" text-anchor="middle" >OH</text><text x="834.0" y="2399.8" font-size="16" font-weight="700" fill="#17294d" letter-spacing="0.9" text-anchor="middle" >6.0%</text><text x="789.2" y="2325.9" font-size="16" font-weight="700" fill="#17294d" letter-spacing="0.9" text-anchor="middle" >MI</text><text x="789.2" y="2346.5" font-size="16" font-weight="700" fill="#17294d" letter-spacing="0.9" text-anchor="middle" >7.4%</text><text x="922.0" y="2341.7" font-size="16" font-weight="700" fill="#17294d" letter-spacing="0.9" text-anchor="middle" >PA</text><text x="922.0" y="2362.2" font-size="16" font-weight="700" fill="#17294d" letter-spacing="0.9" text-anchor="middle" >5.0%</text><text x="956.8" y="2274.7" font-size="16" font-weight="700" fill="#17294d" letter-spacing="0.9" text-anchor="middle" >NY</text><text x="956.8" y="2295.3" font-size="16" font-weight="700" fill="#17294d" letter-spacing="0.9" text-anchor="middle" >4.3%</text><text x="1032.8" y="2176.7" font-size="16" font-weight="700" fill="#17294d" letter-spacing="0.9" text-anchor="middle" >ME</text><text x="1032.8" y="2198.0" font-size="16" font-weight="700" fill="#17294d" letter-spacing="0.9" text-anchor="middle" >6.6%</text><text x="779.2" y="2512.7" font-size="16" font-weight="700" fill="#17294d" letter-spacing="0.9" text-anchor="middle" >TN - 6.9%</text><line x1="961.3" y1="2186.7" x2="984" y2="2226.4" stroke="#17294d" stroke-width="1.8"/><text x="893.8" y="2177.3" font-size="17.5" font-weight="700" fill="#17294d" letter-spacing="1.6" text-anchor="start" >VT - 2.6%</text><line x1="1032.3" y1="2242" x2="1013.2" y2="2247.7" stroke="#17294d" stroke-width="1.8"/><text x="1045.0" y="2249.8" font-size="17.5" font-weight="700" fill="#17294d" letter-spacing="1.6" text-anchor="start" >NH - 6.8%</text><line x1="1048.7" y1="2270.5" x2="1020.3" y2="2275.4" stroke="#17294d" stroke-width="1.8"/><text x="1060.8" y="2280.3" font-size="17.5" font-weight="700" fill="#17294d" letter-spacing="1.6" text-anchor="start" >MA - 6.3%</text><line x1="1037.3" y1="2302.4" x2="1020.3" y2="2293.2" stroke="#17294d" stroke-width="1.8"/><text x="1045.0" y="2312.3" font-size="17.5" font-weight="700" fill="#17294d" letter-spacing="1.6" text-anchor="start" >RI - 5.0%</text><line x1="1021.7" y1="2328.7" x2="1004" y2="2304.6" stroke="#17294d" stroke-width="1.8"/><text x="1027.4" y="2342.1" font-size="17.5" font-weight="700" fill="#17294d" letter-spacing="1.6" text-anchor="start" >CT - 0.9%</text><line x1="1004" y1="2364.2" x2="984" y2="2346.5" stroke="#17294d" stroke-width="1.8"/><text x="1011.0" y="2374.1" font-size="17.5" font-weight="700" fill="#17294d" letter-spacing="1.6" text-anchor="start" >NJ - 3.3%</text><line x1="991.9" y1="2391.2" x2="979.1" y2="2366.4" stroke="#17294d" stroke-width="1.8"/><text x="996.8" y="2403.2" font-size="17.5" font-weight="700" fill="#17294d" letter-spacing="1.6" text-anchor="start" >DE - 4.4%</text><line x1="1004" y1="2423.2" x2="975.5" y2="2387.7" stroke="#17294d" stroke-width="1.8"/><text x="1011.0" y="2434.5" font-size="17.5" font-weight="700" fill="#17294d" letter-spacing="1.6" text-anchor="start" >MD - 2.7%</text><line x1="1004" y1="2453" x2="940" y2="2384" stroke="#17294d" stroke-width="1.8"/><text x="1013.2" y="2463.6" font-size="17.5" font-weight="700" fill="#17294d" letter-spacing="1.6" text-anchor="start" >DC - 5.4%</text><rect x="98.9" y="2064.7" width="20" height="20" fill="#8fa639"/><text x="140.0" y="2084.6" font-size="23" font-weight="700" fill="#8fa639" letter-spacing="1.95" text-anchor="start" >0.0% - 2.9%</text><rect x="341.7" y="2064.7" width="20" height="20" fill="#b5b5b5"/><text x="383.0" y="2084.6" font-size="23" font-weight="700" fill="#b5b5b5" letter-spacing="1.95" text-anchor="start" >3.0% - 7.9%</text><rect x="585.3" y="2064.7" width="20" height="20" fill="#f36f3a"/><text x="625.3" y="2084.6" font-size="23" font-weight="700" fill="#f36f3a" letter-spacing="1.95" text-anchor="start" >3.0% - 7.9%</text><path d="M98.9,3095.4L137.7,3091.6Q139.9,3117.2 131.1,3140.5L135.9,3141.6L135.5,3145.6Q114.4,3147.1 98.9,3152.2Z" fill="#1a70b7"/><path d="M145.0,3091.0L191.0,3088.3L187.7,3122.3Q156.6,3124.9 135.5,3135.4Q145.5,3112.7 145.0,3091.0Z" fill="#8fa83a"/><path d="M98.9,3157.6Q116.6,3152.7 135.9,3151.6L133.3,3175.3L98.9,3175.3Z" fill="#8fa83a"/><path d="M142.2,3138.7Q161.0,3129.4 186.8,3128.3L183.2,3175.6L139.3,3175.6Z" fill="#f26b35"/><rect x="153.3" y="3142.0" width="8.4" height="8.4" fill="#fff"/><rect x="163.7" y="3142.0" width="8.4" height="8.4" fill="#fff"/><rect x="153.3" y="3152.7" width="8.4" height="8.4" fill="#fff"/><rect x="163.7" y="3152.7" width="8.4" height="8.4" fill="#fff"/><text x="216.0" y="3143.0" font-size="74" font-weight="700" fill="#1a70b7" letter-spacing="-0.3" text-anchor="start" font-family='"Liberation Serif",serif' stroke="#1a70b7" stroke-width="1.4">Cornerstone</text><g transform="translate(250,3175.2) scale(1.12,1)"><text x="0.0" y="0.0" font-size="25" font-weight="400" fill="#1a70b7" letter-spacing="2.08" text-anchor="start" >HOME LENDING, INC.</text></g><text x="93.6" y="3250.5" font-size="18.4" font-weight="400" fill="#17294d" letter-spacing="2.61" text-anchor="start" stroke="#fff" stroke-width="0.2">Not a commitment to lend. Borrower must meet qualification criteria. Equal Housing Opportunity.</text><text x="94.0" y="3278.4" font-size="18.4" font-weight="400" fill="#17294d" letter-spacing="2.36" text-anchor="start" stroke="#fff" stroke-width="0.2">Sources: Federal Housing Finance Agency (FHFA) Quarterly Home Price Index Report</text><text x="94.0" y="3305.9" font-size="18.4" font-weight="400" fill="#17294d" letter-spacing="2.45" text-anchor="start" stroke="#fff" stroke-width="0.2">and Keeping Current Matters. Sources deemed reliable but not guaranteed.</text></svg><div class="hl" style="font-weight:700;left:99px;top:104px;font-size:124.31px;color:#17294d;transform:scaleX(0.54);letter-spacing:26.78px;text-shadow:3.3px 0 0 #17294d,-3.3px 0 0 #17294d">HOME PRICES</div><div class="hl" style="font-weight:700;left:100px;top:233px;font-size:136.93px;color:#f36f3a;transform:scaleX(0.54);letter-spacing:31.23px;text-shadow:3.6px 0 0 #f36f3a,-3.6px 0 0 #f36f3a">RISE</div><div class="hl" style="font-weight:700;left:377px;top:232px;font-size:136.90px;color:#f36f3a;transform:scaleX(0.62);letter-spacing:34.92px;text-shadow:2.4px 0 0 #f36f3a,-2.4px 0 0 #f36f3a">5.73%</div><div class="hl" style="font-weight:700;left:98px;top:377px;font-size:96.44px;color:#17294d;transform:scaleX(0.54);letter-spacing:22.71px;text-shadow:2.6px 0 0 #17294d,-2.6px 0 0 #17294d">ACROSS THE U.S.</div><div class="hl" style="font-weight:700;left:98px;top:762px;font-size:29.73px;color:#17294d;transform:scaleX(0.5);letter-spacing:8.27px;text-shadow:0.8px 0 0 #17294d,-0.8px 0 0 #17294d">REGIONAL PRICES: YEAR-OVER-YEAR</div><div class="hl" style="font-weight:700;left:98px;top:1806px;font-size:29.73px;color:#17294d;transform:scaleX(0.5);letter-spacing:8.37px;text-shadow:0.8px 0 0 #17294d,-0.8px 0 0 #17294d">STATE PRICES: YEAR-OVER-YEAR</div><div class="p" style="left:97.5px;top:501.0px;font-size:26px;letter-spacing:3.4px;line-height:1">The Federal Housing Finance Agency</div><div class="p" style="left:97.5px;top:541.8px;font-size:26px;letter-spacing:3.5px;line-height:1">(FHFA) recently published their Quarterly</div><div class="p" style="left:98px;top:580.7px;font-size:26px;letter-spacing:3.57px;line-height:1">Home Price Index that compares regional</div><div class="p" style="left:98px;top:620.3px;font-size:26px;letter-spacing:3.56px;line-height:1">and state housing prices.</div><div class="p" style="left:97.5px;top:1871.0px;font-size:28.3px;letter-spacing:2.58px;line-height:1">The state-by-state breakdown shows that home price appreciation</div><div class="p" style="left:98px;top:1908.6px;font-size:28.3px;letter-spacing:2.54px;line-height:1">varies in each state. If you’re a homeowner, you’re likely to see a</div><div class="p" style="left:98px;top:1946.0px;font-size:28.3px;letter-spacing:2.58px;line-height:1">boost in your home equity in any region.</div><div class="p" style="left:97.7px;top:2905.2px;font-size:28.3px;letter-spacing:2.41px;line-height:1">If you’re a homebuyer, you have a unique chance to increase your</div><div class="p" style="left:98px;top:2944.0px;font-size:28.3px;letter-spacing:2.79px;line-height:1">equity and long-term net worth when you buy now, before the</div><div class="p" style="left:98px;top:2981.6px;font-size:28.3px;letter-spacing:2.45px;line-height:1">next housing price increase.</div></body></html>
